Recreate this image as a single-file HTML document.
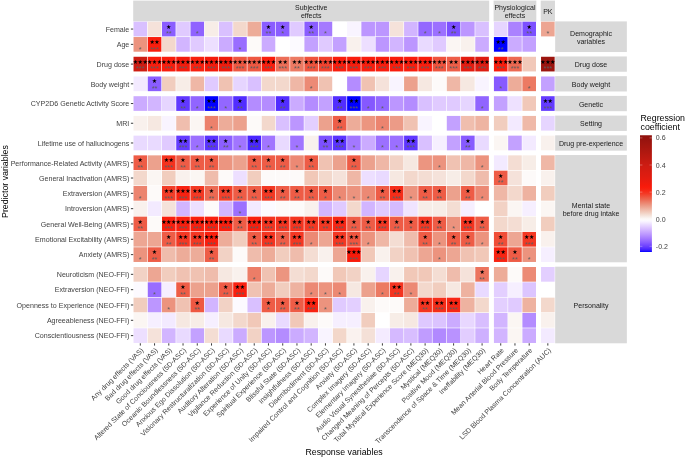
<!DOCTYPE html><html><head><meta charset="utf-8"><style>
html,body{margin:0;padding:0;background:#fff;}body{width:685px;height:457px;overflow:hidden;}svg{display:block;}text{font-family:"Liberation Sans",Arial,sans-serif;}
</style></head><body>
<svg width="685" height="457" viewBox="0 0 685 457">
<rect x="133.20" y="0.6" width="356.00" height="20.80" fill="#d9d9d9"/>
<text x="311.20" y="9.9" font-size="7.04" fill="#1a1a1a" text-anchor="middle">Subjective</text>
<text x="311.20" y="17.6" font-size="7.04" fill="#1a1a1a" text-anchor="middle">effects</text>
<rect x="493.60" y="0.6" width="42.72" height="20.80" fill="#d9d9d9"/>
<text x="514.96" y="9.9" font-size="7.04" fill="#1a1a1a" text-anchor="middle">Physiological</text>
<text x="514.96" y="17.6" font-size="7.04" fill="#1a1a1a" text-anchor="middle">effects</text>
<rect x="540.72" y="0.6" width="14.24" height="20.80" fill="#d9d9d9"/>
<text x="547.84" y="13.6" font-size="7.04" fill="#1a1a1a" text-anchor="middle">PK</text>
<rect x="555.16" y="21.40" width="71.70" height="30.64" fill="#d9d9d9"/>
<text x="591.01" y="35.92" font-size="7.04" fill="#1a1a1a" text-anchor="middle">Demographic</text>
<text x="591.01" y="43.62" font-size="7.04" fill="#1a1a1a" text-anchor="middle">variables</text>
<rect x="555.16" y="56.44" width="71.70" height="15.32" fill="#d9d9d9"/>
<text x="591.01" y="67.15" font-size="7.04" fill="#1a1a1a" text-anchor="middle">Drug dose</text>
<rect x="555.16" y="76.16" width="71.70" height="15.32" fill="#d9d9d9"/>
<text x="591.01" y="86.87" font-size="7.04" fill="#1a1a1a" text-anchor="middle">Body weight</text>
<rect x="555.16" y="95.88" width="71.70" height="15.32" fill="#d9d9d9"/>
<text x="591.01" y="106.59" font-size="7.04" fill="#1a1a1a" text-anchor="middle">Genetic</text>
<rect x="555.16" y="115.60" width="71.70" height="15.32" fill="#d9d9d9"/>
<text x="591.01" y="126.31" font-size="7.04" fill="#1a1a1a" text-anchor="middle">Setting</text>
<rect x="555.16" y="135.32" width="71.70" height="15.32" fill="#d9d9d9"/>
<text x="591.01" y="146.03" font-size="7.04" fill="#1a1a1a" text-anchor="middle">Drug pre-experience</text>
<rect x="555.16" y="155.04" width="71.70" height="107.24" fill="#d9d9d9"/>
<text x="591.01" y="207.86" font-size="7.04" fill="#1a1a1a" text-anchor="middle">Mental state</text>
<text x="591.01" y="215.56" font-size="7.04" fill="#1a1a1a" text-anchor="middle">before drug intake</text>
<rect x="555.16" y="266.68" width="71.70" height="76.60" fill="#d9d9d9"/>
<text x="591.01" y="308.03" font-size="7.04" fill="#1a1a1a" text-anchor="middle">Personality</text>
<rect x="133.52" y="21.72" width="13.60" height="14.68" fill="#d9c0ff"/>
<rect x="147.76" y="21.72" width="13.60" height="14.68" fill="#f5e2da"/>
<rect x="162.00" y="21.72" width="13.60" height="14.68" fill="#8a5dff"/>
<text x="168.80" y="27.70" font-size="4.9" letter-spacing="0.0" text-anchor="middle" style="font-family:'Liberation Sans','Noto Sans CJK JP',sans-serif">★</text>
<text x="168.80" y="36.30" font-size="7.4" fill="#5e5e5e" text-anchor="middle">**</text>
<rect x="176.24" y="21.72" width="13.60" height="14.68" fill="#e0caff"/>
<rect x="190.48" y="21.72" width="13.60" height="14.68" fill="#8f62ff"/>
<text x="197.28" y="36.30" font-size="7.4" fill="#5e5e5e" text-anchor="middle">*</text>
<rect x="204.72" y="21.72" width="13.60" height="14.68" fill="#f7ede7"/>
<rect x="218.96" y="21.72" width="13.60" height="14.68" fill="#d9c0ff"/>
<rect x="233.20" y="21.72" width="13.60" height="14.68" fill="#f3d8cc"/>
<rect x="247.44" y="21.72" width="13.60" height="14.68" fill="#edac99"/>
<rect x="261.68" y="21.72" width="13.60" height="14.68" fill="#8a5dff"/>
<text x="268.48" y="27.70" font-size="4.9" letter-spacing="0.0" text-anchor="middle" style="font-family:'Liberation Sans','Noto Sans CJK JP',sans-serif">★</text>
<text x="268.48" y="36.30" font-size="7.4" fill="#5e5e5e" text-anchor="middle">**</text>
<rect x="275.92" y="21.72" width="13.60" height="14.68" fill="#8a5dff"/>
<text x="282.72" y="27.70" font-size="4.9" letter-spacing="0.0" text-anchor="middle" style="font-family:'Liberation Sans','Noto Sans CJK JP',sans-serif">★</text>
<text x="282.72" y="36.30" font-size="7.4" fill="#5e5e5e" text-anchor="middle">*</text>
<rect x="290.16" y="21.72" width="13.60" height="14.68" fill="#e0caff"/>
<rect x="304.40" y="21.72" width="13.60" height="14.68" fill="#8a5dff"/>
<text x="311.20" y="27.70" font-size="4.9" letter-spacing="0.0" text-anchor="middle" style="font-family:'Liberation Sans','Noto Sans CJK JP',sans-serif">★</text>
<text x="311.20" y="36.30" font-size="7.4" fill="#5e5e5e" text-anchor="middle">**</text>
<rect x="318.64" y="21.72" width="13.60" height="14.68" fill="#a57aff"/>
<text x="325.44" y="36.30" font-size="7.4" fill="#5e5e5e" text-anchor="middle">*</text>
<rect x="332.88" y="21.72" width="13.60" height="14.68" fill="#ffffff"/>
<rect x="347.12" y="21.72" width="13.60" height="14.68" fill="#f9f4ff"/>
<rect x="361.36" y="21.72" width="13.60" height="14.68" fill="#bc96ff"/>
<rect x="375.60" y="21.72" width="13.60" height="14.68" fill="#bc96ff"/>
<rect x="389.84" y="21.72" width="13.60" height="14.68" fill="#f5e2da"/>
<rect x="404.08" y="21.72" width="13.60" height="14.68" fill="#d2b5ff"/>
<rect x="418.32" y="21.72" width="13.60" height="14.68" fill="#9367ff"/>
<text x="425.12" y="36.30" font-size="7.4" fill="#5e5e5e" text-anchor="middle">*</text>
<rect x="432.56" y="21.72" width="13.60" height="14.68" fill="#9c70ff"/>
<text x="439.36" y="36.30" font-size="7.4" fill="#5e5e5e" text-anchor="middle">*</text>
<rect x="446.80" y="21.72" width="13.60" height="14.68" fill="#7c50ff"/>
<text x="453.60" y="27.70" font-size="4.9" letter-spacing="0.0" text-anchor="middle" style="font-family:'Liberation Sans','Noto Sans CJK JP',sans-serif">★</text>
<text x="453.60" y="36.30" font-size="7.4" fill="#5e5e5e" text-anchor="middle">**</text>
<rect x="461.04" y="21.72" width="13.60" height="14.68" fill="#bc96ff"/>
<rect x="475.28" y="21.72" width="13.60" height="14.68" fill="#d9c0ff"/>
<rect x="493.92" y="21.72" width="13.60" height="14.68" fill="#e6d5ff"/>
<rect x="508.16" y="21.72" width="13.60" height="14.68" fill="#ab82ff"/>
<rect x="522.40" y="21.72" width="13.60" height="14.68" fill="#7c50ff"/>
<text x="529.20" y="27.70" font-size="4.9" letter-spacing="0.0" text-anchor="middle" style="font-family:'Liberation Sans','Noto Sans CJK JP',sans-serif">★</text>
<text x="529.20" y="36.30" font-size="7.4" fill="#5e5e5e" text-anchor="middle">**</text>
<rect x="541.04" y="21.72" width="13.60" height="14.68" fill="#eda592"/>
<text x="547.84" y="36.30" font-size="7.4" fill="#5e5e5e" text-anchor="middle">*</text>
<rect x="133.52" y="37.04" width="13.60" height="14.68" fill="#ec937e"/>
<text x="140.32" y="51.62" font-size="7.4" fill="#5e5e5e" text-anchor="middle">*</text>
<rect x="147.76" y="37.04" width="13.60" height="14.68" fill="#f91d0d"/>
<text x="154.56" y="43.02" font-size="4.9" letter-spacing="0.0" text-anchor="middle" style="font-family:'Liberation Sans','Noto Sans CJK JP',sans-serif">★★</text>
<text x="154.56" y="51.62" font-size="7.4" fill="#5e5e5e" text-anchor="middle">***</text>
<rect x="162.00" y="37.04" width="13.60" height="14.68" fill="#f3d8cc"/>
<rect x="176.24" y="37.04" width="13.60" height="14.68" fill="#d2b5ff"/>
<rect x="190.48" y="37.04" width="13.60" height="14.68" fill="#e0caff"/>
<rect x="204.72" y="37.04" width="13.60" height="14.68" fill="#eddfff"/>
<rect x="218.96" y="37.04" width="13.60" height="14.68" fill="#cbabff"/>
<rect x="233.20" y="37.04" width="13.60" height="14.68" fill="#996dff"/>
<text x="240.00" y="51.62" font-size="7.4" fill="#5e5e5e" text-anchor="middle">*</text>
<rect x="247.44" y="37.04" width="13.60" height="14.68" fill="#fdfaf9"/>
<rect x="261.68" y="37.04" width="13.60" height="14.68" fill="#cbabff"/>
<rect x="275.92" y="37.04" width="13.60" height="14.68" fill="#ffffff"/>
<rect x="290.16" y="37.04" width="13.60" height="14.68" fill="#fcfaff"/>
<rect x="304.40" y="37.04" width="13.60" height="14.68" fill="#c3a1ff"/>
<rect x="318.64" y="37.04" width="13.60" height="14.68" fill="#e0caff"/>
<rect x="332.88" y="37.04" width="13.60" height="14.68" fill="#c3a1ff"/>
<rect x="347.12" y="37.04" width="13.60" height="14.68" fill="#f9f1ed"/>
<rect x="361.36" y="37.04" width="13.60" height="14.68" fill="#eddfff"/>
<rect x="375.60" y="37.04" width="13.60" height="14.68" fill="#bc96ff"/>
<rect x="389.84" y="37.04" width="13.60" height="14.68" fill="#d2b5ff"/>
<rect x="404.08" y="37.04" width="13.60" height="14.68" fill="#bc96ff"/>
<rect x="418.32" y="37.04" width="13.60" height="14.68" fill="#e9daff"/>
<rect x="432.56" y="37.04" width="13.60" height="14.68" fill="#e0caff"/>
<rect x="446.80" y="37.04" width="13.60" height="14.68" fill="#fbf6f3"/>
<rect x="461.04" y="37.04" width="13.60" height="14.68" fill="#f9f1ed"/>
<rect x="475.28" y="37.04" width="13.60" height="14.68" fill="#cbabff"/>
<rect x="493.92" y="37.04" width="13.60" height="14.68" fill="#0000ff"/>
<text x="500.72" y="43.02" font-size="4.9" letter-spacing="0.0" text-anchor="middle" style="font-family:'Liberation Sans','Noto Sans CJK JP',sans-serif">★★</text>
<text x="500.72" y="51.62" font-size="7.4" fill="#5e5e5e" text-anchor="middle">**</text>
<rect x="508.16" y="37.04" width="13.60" height="14.68" fill="#cbabff"/>
<rect x="522.40" y="37.04" width="13.60" height="14.68" fill="#c3a1ff"/>
<rect x="541.04" y="37.04" width="13.60" height="14.68" fill="#ffffff"/>
<rect x="133.52" y="56.76" width="13.60" height="14.68" fill="#cd1c12"/>
<text x="140.32" y="62.74" font-size="4.9" letter-spacing="0.0" text-anchor="middle" style="font-family:'Liberation Sans','Noto Sans CJK JP',sans-serif">★★★</text>
<text x="140.32" y="71.34" font-size="7.4" fill="#5e5e5e" text-anchor="middle">***</text>
<rect x="147.76" y="56.76" width="13.60" height="14.68" fill="#f91d0d"/>
<text x="154.56" y="62.74" font-size="4.9" letter-spacing="0.0" text-anchor="middle" style="font-family:'Liberation Sans','Noto Sans CJK JP',sans-serif">★★★</text>
<text x="154.56" y="71.34" font-size="7.4" fill="#5e5e5e" text-anchor="middle">***</text>
<rect x="162.00" y="56.76" width="13.60" height="14.68" fill="#f91d0d"/>
<text x="168.80" y="62.74" font-size="4.9" letter-spacing="0.0" text-anchor="middle" style="font-family:'Liberation Sans','Noto Sans CJK JP',sans-serif">★★★</text>
<text x="168.80" y="71.34" font-size="7.4" fill="#5e5e5e" text-anchor="middle">***</text>
<rect x="176.24" y="56.76" width="13.60" height="14.68" fill="#f31b0c"/>
<text x="183.04" y="62.74" font-size="4.9" letter-spacing="0.0" text-anchor="middle" style="font-family:'Liberation Sans','Noto Sans CJK JP',sans-serif">★★★</text>
<text x="183.04" y="71.34" font-size="7.4" fill="#5e5e5e" text-anchor="middle">***</text>
<rect x="190.48" y="56.76" width="13.60" height="14.68" fill="#f8200f"/>
<text x="197.28" y="62.74" font-size="4.9" letter-spacing="0.0" text-anchor="middle" style="font-family:'Liberation Sans','Noto Sans CJK JP',sans-serif">★★★</text>
<text x="197.28" y="71.34" font-size="7.4" fill="#5e5e5e" text-anchor="middle">***</text>
<rect x="204.72" y="56.76" width="13.60" height="14.68" fill="#f41a0c"/>
<text x="211.52" y="62.74" font-size="4.9" letter-spacing="0.0" text-anchor="middle" style="font-family:'Liberation Sans','Noto Sans CJK JP',sans-serif">★★★</text>
<text x="211.52" y="71.34" font-size="7.4" fill="#5e5e5e" text-anchor="middle">***</text>
<rect x="218.96" y="56.76" width="13.60" height="14.68" fill="#ef1b0d"/>
<text x="225.76" y="62.74" font-size="4.9" letter-spacing="0.0" text-anchor="middle" style="font-family:'Liberation Sans','Noto Sans CJK JP',sans-serif">★★★</text>
<text x="225.76" y="71.34" font-size="7.4" fill="#5e5e5e" text-anchor="middle">***</text>
<rect x="233.20" y="56.76" width="13.60" height="14.68" fill="#ee5842"/>
<text x="240.00" y="62.74" font-size="4.9" letter-spacing="0.0" text-anchor="middle" style="font-family:'Liberation Sans','Noto Sans CJK JP',sans-serif">★★★</text>
<text x="240.00" y="71.34" font-size="7.4" fill="#5e5e5e" text-anchor="middle">***</text>
<rect x="247.44" y="56.76" width="13.60" height="14.68" fill="#ee5842"/>
<text x="254.24" y="62.74" font-size="4.9" letter-spacing="0.0" text-anchor="middle" style="font-family:'Liberation Sans','Noto Sans CJK JP',sans-serif">★★★</text>
<text x="254.24" y="71.34" font-size="7.4" fill="#5e5e5e" text-anchor="middle">***</text>
<rect x="261.68" y="56.76" width="13.60" height="14.68" fill="#f91d0d"/>
<text x="268.48" y="62.74" font-size="4.9" letter-spacing="0.0" text-anchor="middle" style="font-family:'Liberation Sans','Noto Sans CJK JP',sans-serif">★★★</text>
<text x="268.48" y="71.34" font-size="7.4" fill="#5e5e5e" text-anchor="middle">***</text>
<rect x="275.92" y="56.76" width="13.60" height="14.68" fill="#ec6e58"/>
<text x="282.72" y="62.74" font-size="4.9" letter-spacing="0.0" text-anchor="middle" style="font-family:'Liberation Sans','Noto Sans CJK JP',sans-serif">★★</text>
<text x="282.72" y="71.34" font-size="7.4" fill="#5e5e5e" text-anchor="middle">***</text>
<rect x="290.16" y="56.76" width="13.60" height="14.68" fill="#ec7a63"/>
<text x="296.96" y="62.74" font-size="4.9" letter-spacing="0.0" text-anchor="middle" style="font-family:'Liberation Sans','Noto Sans CJK JP',sans-serif">★★</text>
<text x="296.96" y="71.34" font-size="7.4" fill="#5e5e5e" text-anchor="middle">**</text>
<rect x="304.40" y="56.76" width="13.60" height="14.68" fill="#ef533d"/>
<text x="311.20" y="62.74" font-size="4.9" letter-spacing="0.0" text-anchor="middle" style="font-family:'Liberation Sans','Noto Sans CJK JP',sans-serif">★★★</text>
<text x="311.20" y="71.34" font-size="7.4" fill="#5e5e5e" text-anchor="middle">***</text>
<rect x="318.64" y="56.76" width="13.60" height="14.68" fill="#f2422e"/>
<text x="325.44" y="62.74" font-size="4.9" letter-spacing="0.0" text-anchor="middle" style="font-family:'Liberation Sans','Noto Sans CJK JP',sans-serif">★★★</text>
<text x="325.44" y="71.34" font-size="7.4" fill="#5e5e5e" text-anchor="middle">***</text>
<rect x="332.88" y="56.76" width="13.60" height="14.68" fill="#f91d0d"/>
<text x="339.68" y="62.74" font-size="4.9" letter-spacing="0.0" text-anchor="middle" style="font-family:'Liberation Sans','Noto Sans CJK JP',sans-serif">★★★</text>
<text x="339.68" y="71.34" font-size="7.4" fill="#5e5e5e" text-anchor="middle">***</text>
<rect x="347.12" y="56.76" width="13.60" height="14.68" fill="#f91d0d"/>
<text x="353.92" y="62.74" font-size="4.9" letter-spacing="0.0" text-anchor="middle" style="font-family:'Liberation Sans','Noto Sans CJK JP',sans-serif">★★★</text>
<text x="353.92" y="71.34" font-size="7.4" fill="#5e5e5e" text-anchor="middle">***</text>
<rect x="361.36" y="56.76" width="13.60" height="14.68" fill="#f91d0d"/>
<text x="368.16" y="62.74" font-size="4.9" letter-spacing="0.0" text-anchor="middle" style="font-family:'Liberation Sans','Noto Sans CJK JP',sans-serif">★★★</text>
<text x="368.16" y="71.34" font-size="7.4" fill="#5e5e5e" text-anchor="middle">***</text>
<rect x="375.60" y="56.76" width="13.60" height="14.68" fill="#f91d0d"/>
<text x="382.40" y="62.74" font-size="4.9" letter-spacing="0.0" text-anchor="middle" style="font-family:'Liberation Sans','Noto Sans CJK JP',sans-serif">★★★</text>
<text x="382.40" y="71.34" font-size="7.4" fill="#5e5e5e" text-anchor="middle">***</text>
<rect x="389.84" y="56.76" width="13.60" height="14.68" fill="#f91d0d"/>
<text x="396.64" y="62.74" font-size="4.9" letter-spacing="0.0" text-anchor="middle" style="font-family:'Liberation Sans','Noto Sans CJK JP',sans-serif">★★★</text>
<text x="396.64" y="71.34" font-size="7.4" fill="#5e5e5e" text-anchor="middle">***</text>
<rect x="404.08" y="56.76" width="13.60" height="14.68" fill="#f91d0d"/>
<text x="410.88" y="62.74" font-size="4.9" letter-spacing="0.0" text-anchor="middle" style="font-family:'Liberation Sans','Noto Sans CJK JP',sans-serif">★★★</text>
<text x="410.88" y="71.34" font-size="7.4" fill="#5e5e5e" text-anchor="middle">***</text>
<rect x="418.32" y="56.76" width="13.60" height="14.68" fill="#f91d0d"/>
<text x="425.12" y="62.74" font-size="4.9" letter-spacing="0.0" text-anchor="middle" style="font-family:'Liberation Sans','Noto Sans CJK JP',sans-serif">★★★</text>
<text x="425.12" y="71.34" font-size="7.4" fill="#5e5e5e" text-anchor="middle">***</text>
<rect x="432.56" y="56.76" width="13.60" height="14.68" fill="#ef533d"/>
<text x="439.36" y="62.74" font-size="4.9" letter-spacing="0.0" text-anchor="middle" style="font-family:'Liberation Sans','Noto Sans CJK JP',sans-serif">★★★</text>
<text x="439.36" y="71.34" font-size="7.4" fill="#5e5e5e" text-anchor="middle">***</text>
<rect x="446.80" y="56.76" width="13.60" height="14.68" fill="#ee5e48"/>
<text x="453.60" y="62.74" font-size="4.9" letter-spacing="0.0" text-anchor="middle" style="font-family:'Liberation Sans','Noto Sans CJK JP',sans-serif">★★</text>
<text x="453.60" y="71.34" font-size="7.4" fill="#5e5e5e" text-anchor="middle">***</text>
<rect x="461.04" y="56.76" width="13.60" height="14.68" fill="#e41c10"/>
<text x="467.84" y="62.74" font-size="4.9" letter-spacing="0.0" text-anchor="middle" style="font-family:'Liberation Sans','Noto Sans CJK JP',sans-serif">★★★</text>
<text x="467.84" y="71.34" font-size="7.4" fill="#5e5e5e" text-anchor="middle">***</text>
<rect x="475.28" y="56.76" width="13.60" height="14.68" fill="#dd1c11"/>
<text x="482.08" y="62.74" font-size="4.9" letter-spacing="0.0" text-anchor="middle" style="font-family:'Liberation Sans','Noto Sans CJK JP',sans-serif">★★★</text>
<text x="482.08" y="71.34" font-size="7.4" fill="#5e5e5e" text-anchor="middle">***</text>
<rect x="493.92" y="56.76" width="13.60" height="14.68" fill="#f91d0d"/>
<text x="500.72" y="62.74" font-size="4.9" letter-spacing="0.0" text-anchor="middle" style="font-family:'Liberation Sans','Noto Sans CJK JP',sans-serif">★★★</text>
<text x="500.72" y="71.34" font-size="7.4" fill="#5e5e5e" text-anchor="middle">***</text>
<rect x="508.16" y="56.76" width="13.60" height="14.68" fill="#ec6952"/>
<text x="514.96" y="62.74" font-size="4.9" letter-spacing="0.0" text-anchor="middle" style="font-family:'Liberation Sans','Noto Sans CJK JP',sans-serif">★★★</text>
<text x="514.96" y="71.34" font-size="7.4" fill="#5e5e5e" text-anchor="middle">***</text>
<rect x="522.40" y="56.76" width="13.60" height="14.68" fill="#f1c8b9"/>
<rect x="541.04" y="56.76" width="13.60" height="14.68" fill="#9c150f"/>
<text x="547.84" y="62.74" font-size="4.9" letter-spacing="0.0" text-anchor="middle" style="font-family:'Liberation Sans','Noto Sans CJK JP',sans-serif">★★★</text>
<text x="547.84" y="71.34" font-size="7.4" fill="#5e5e5e" text-anchor="middle">***</text>
<rect x="133.52" y="76.48" width="13.60" height="14.68" fill="#f3eaff"/>
<rect x="147.76" y="76.48" width="13.60" height="14.68" fill="#8a5dff"/>
<text x="154.56" y="82.46" font-size="4.9" letter-spacing="0.0" text-anchor="middle" style="font-family:'Liberation Sans','Noto Sans CJK JP',sans-serif">★</text>
<text x="154.56" y="91.06" font-size="7.4" fill="#5e5e5e" text-anchor="middle">**</text>
<rect x="162.00" y="76.48" width="13.60" height="14.68" fill="#f1cdbe"/>
<rect x="176.24" y="76.48" width="13.60" height="14.68" fill="#f7ede7"/>
<rect x="190.48" y="76.48" width="13.60" height="14.68" fill="#efb7a6"/>
<rect x="204.72" y="76.48" width="13.60" height="14.68" fill="#e0caff"/>
<rect x="218.96" y="76.48" width="13.60" height="14.68" fill="#f0c2b2"/>
<rect x="233.20" y="76.48" width="13.60" height="14.68" fill="#e6d5ff"/>
<rect x="247.44" y="76.48" width="13.60" height="14.68" fill="#d9c0ff"/>
<rect x="261.68" y="76.48" width="13.60" height="14.68" fill="#f3d8cc"/>
<rect x="275.92" y="76.48" width="13.60" height="14.68" fill="#f3d8cc"/>
<rect x="290.16" y="76.48" width="13.60" height="14.68" fill="#efb7a6"/>
<rect x="304.40" y="76.48" width="13.60" height="14.68" fill="#ec8a75"/>
<text x="311.20" y="91.06" font-size="7.4" fill="#5e5e5e" text-anchor="middle">*</text>
<rect x="318.64" y="76.48" width="13.60" height="14.68" fill="#f0c2b2"/>
<rect x="332.88" y="76.48" width="13.60" height="14.68" fill="#ffffff"/>
<rect x="347.12" y="76.48" width="13.60" height="14.68" fill="#b48cff"/>
<rect x="361.36" y="76.48" width="13.60" height="14.68" fill="#f0c2b2"/>
<rect x="375.60" y="76.48" width="13.60" height="14.68" fill="#f5e2da"/>
<rect x="389.84" y="76.48" width="13.60" height="14.68" fill="#f9f4ff"/>
<rect x="404.08" y="76.48" width="13.60" height="14.68" fill="#eca18d"/>
<rect x="418.32" y="76.48" width="13.60" height="14.68" fill="#f6e8e1"/>
<rect x="432.56" y="76.48" width="13.60" height="14.68" fill="#fdfaf9"/>
<rect x="446.80" y="76.48" width="13.60" height="14.68" fill="#efb7a6"/>
<rect x="461.04" y="76.48" width="13.60" height="14.68" fill="#f6e8e1"/>
<rect x="475.28" y="76.48" width="13.60" height="14.68" fill="#f9f4ff"/>
<rect x="493.92" y="76.48" width="13.60" height="14.68" fill="#875aff"/>
<text x="500.72" y="91.06" font-size="7.4" fill="#5e5e5e" text-anchor="middle">*</text>
<rect x="508.16" y="76.48" width="13.60" height="14.68" fill="#edac99"/>
<rect x="522.40" y="76.48" width="13.60" height="14.68" fill="#ec7a63"/>
<text x="529.20" y="91.06" font-size="7.4" fill="#5e5e5e" text-anchor="middle">*</text>
<rect x="541.04" y="76.48" width="13.60" height="14.68" fill="#c3a1ff"/>
<rect x="133.52" y="96.20" width="13.60" height="14.68" fill="#cbabff"/>
<rect x="147.76" y="96.20" width="13.60" height="14.68" fill="#d2b5ff"/>
<rect x="162.00" y="96.20" width="13.60" height="14.68" fill="#e6d5ff"/>
<rect x="176.24" y="96.20" width="13.60" height="14.68" fill="#6138ff"/>
<text x="183.04" y="102.18" font-size="4.9" letter-spacing="0.0" text-anchor="middle" style="font-family:'Liberation Sans','Noto Sans CJK JP',sans-serif">★</text>
<text x="183.04" y="110.78" font-size="7.4" fill="#5e5e5e" text-anchor="middle">**</text>
<rect x="190.48" y="96.20" width="13.60" height="14.68" fill="#9165ff"/>
<text x="197.28" y="110.78" font-size="7.4" fill="#5e5e5e" text-anchor="middle">*</text>
<rect x="204.72" y="96.20" width="13.60" height="14.68" fill="#0000ff"/>
<text x="211.52" y="102.18" font-size="4.9" letter-spacing="0.0" text-anchor="middle" style="font-family:'Liberation Sans','Noto Sans CJK JP',sans-serif">★★</text>
<text x="211.52" y="110.78" font-size="7.4" fill="#5e5e5e" text-anchor="middle">***</text>
<rect x="218.96" y="96.20" width="13.60" height="14.68" fill="#9367ff"/>
<text x="225.76" y="110.78" font-size="7.4" fill="#5e5e5e" text-anchor="middle">*</text>
<rect x="233.20" y="96.20" width="13.60" height="14.68" fill="#522dff"/>
<text x="240.00" y="102.18" font-size="4.9" letter-spacing="0.0" text-anchor="middle" style="font-family:'Liberation Sans','Noto Sans CJK JP',sans-serif">★</text>
<text x="240.00" y="110.78" font-size="7.4" fill="#5e5e5e" text-anchor="middle">**</text>
<rect x="247.44" y="96.20" width="13.60" height="14.68" fill="#b48cff"/>
<rect x="261.68" y="96.20" width="13.60" height="14.68" fill="#b48cff"/>
<rect x="275.92" y="96.20" width="13.60" height="14.68" fill="#522dff"/>
<text x="282.72" y="102.18" font-size="4.9" letter-spacing="0.0" text-anchor="middle" style="font-family:'Liberation Sans','Noto Sans CJK JP',sans-serif">★</text>
<text x="282.72" y="110.78" font-size="7.4" fill="#5e5e5e" text-anchor="middle">**</text>
<rect x="290.16" y="96.20" width="13.60" height="14.68" fill="#cbabff"/>
<rect x="304.40" y="96.20" width="13.60" height="14.68" fill="#b48cff"/>
<rect x="318.64" y="96.20" width="13.60" height="14.68" fill="#c3a1ff"/>
<rect x="332.88" y="96.20" width="13.60" height="14.68" fill="#522dff"/>
<text x="339.68" y="102.18" font-size="4.9" letter-spacing="0.0" text-anchor="middle" style="font-family:'Liberation Sans','Noto Sans CJK JP',sans-serif">★</text>
<text x="339.68" y="110.78" font-size="7.4" fill="#5e5e5e" text-anchor="middle">**</text>
<rect x="347.12" y="96.20" width="13.60" height="14.68" fill="#0000ff"/>
<text x="353.92" y="102.18" font-size="4.9" letter-spacing="0.0" text-anchor="middle" style="font-family:'Liberation Sans','Noto Sans CJK JP',sans-serif">★★</text>
<text x="353.92" y="110.78" font-size="7.4" fill="#5e5e5e" text-anchor="middle">***</text>
<rect x="361.36" y="96.20" width="13.60" height="14.68" fill="#8558ff"/>
<text x="368.16" y="110.78" font-size="7.4" fill="#5e5e5e" text-anchor="middle">*</text>
<rect x="375.60" y="96.20" width="13.60" height="14.68" fill="#9367ff"/>
<text x="382.40" y="110.78" font-size="7.4" fill="#5e5e5e" text-anchor="middle">*</text>
<rect x="389.84" y="96.20" width="13.60" height="14.68" fill="#bc96ff"/>
<rect x="404.08" y="96.20" width="13.60" height="14.68" fill="#b48cff"/>
<rect x="418.32" y="96.20" width="13.60" height="14.68" fill="#d9c0ff"/>
<rect x="432.56" y="96.20" width="13.60" height="14.68" fill="#e0caff"/>
<rect x="446.80" y="96.20" width="13.60" height="14.68" fill="#e0caff"/>
<rect x="461.04" y="96.20" width="13.60" height="14.68" fill="#e6d5ff"/>
<rect x="475.28" y="96.20" width="13.60" height="14.68" fill="#9165ff"/>
<text x="482.08" y="110.78" font-size="7.4" fill="#5e5e5e" text-anchor="middle">*</text>
<rect x="493.92" y="96.20" width="13.60" height="14.68" fill="#c3a1ff"/>
<rect x="508.16" y="96.20" width="13.60" height="14.68" fill="#eee1ff"/>
<rect x="522.40" y="96.20" width="13.60" height="14.68" fill="#f1c8b9"/>
<rect x="541.04" y="96.20" width="13.60" height="14.68" fill="#643bff"/>
<text x="547.84" y="102.18" font-size="4.9" letter-spacing="0.0" text-anchor="middle" style="font-family:'Liberation Sans','Noto Sans CJK JP',sans-serif">★★</text>
<text x="547.84" y="110.78" font-size="7.4" fill="#5e5e5e" text-anchor="middle">***</text>
<rect x="133.52" y="115.92" width="13.60" height="14.68" fill="#f9f1ed"/>
<rect x="147.76" y="115.92" width="13.60" height="14.68" fill="#f6e8e1"/>
<rect x="162.00" y="115.92" width="13.60" height="14.68" fill="#f9f4ff"/>
<rect x="176.24" y="115.92" width="13.60" height="14.68" fill="#f0beae"/>
<rect x="190.48" y="115.92" width="13.60" height="14.68" fill="#fbf6f3"/>
<rect x="204.72" y="115.92" width="13.60" height="14.68" fill="#ec816c"/>
<text x="211.52" y="130.50" font-size="7.4" fill="#5e5e5e" text-anchor="middle">*</text>
<rect x="218.96" y="115.92" width="13.60" height="14.68" fill="#edac99"/>
<rect x="233.20" y="115.92" width="13.60" height="14.68" fill="#eca18d"/>
<rect x="247.44" y="115.92" width="13.60" height="14.68" fill="#fdfaf9"/>
<rect x="261.68" y="115.92" width="13.60" height="14.68" fill="#f3d8cc"/>
<rect x="275.92" y="115.92" width="13.60" height="14.68" fill="#d9c0ff"/>
<rect x="290.16" y="115.92" width="13.60" height="14.68" fill="#bc96ff"/>
<rect x="304.40" y="115.92" width="13.60" height="14.68" fill="#e3cfff"/>
<rect x="318.64" y="115.92" width="13.60" height="14.68" fill="#eca18d"/>
<rect x="332.88" y="115.92" width="13.60" height="14.68" fill="#ee5e48"/>
<text x="339.68" y="121.90" font-size="4.9" letter-spacing="0.0" text-anchor="middle" style="font-family:'Liberation Sans','Noto Sans CJK JP',sans-serif">★</text>
<text x="339.68" y="130.50" font-size="7.4" fill="#5e5e5e" text-anchor="middle">**</text>
<rect x="347.12" y="115.92" width="13.60" height="14.68" fill="#edac99"/>
<rect x="361.36" y="115.92" width="13.60" height="14.68" fill="#ec9580"/>
<rect x="375.60" y="115.92" width="13.60" height="14.68" fill="#ec846f"/>
<text x="382.40" y="130.50" font-size="7.4" fill="#5e5e5e" text-anchor="middle">*</text>
<rect x="389.84" y="115.92" width="13.60" height="14.68" fill="#ec9b87"/>
<rect x="404.08" y="115.92" width="13.60" height="14.68" fill="#f0c2b2"/>
<rect x="418.32" y="115.92" width="13.60" height="14.68" fill="#f9f4ff"/>
<rect x="432.56" y="115.92" width="13.60" height="14.68" fill="#ffffff"/>
<rect x="446.80" y="115.92" width="13.60" height="14.68" fill="#c3a1ff"/>
<rect x="461.04" y="115.92" width="13.60" height="14.68" fill="#f0beae"/>
<rect x="475.28" y="115.92" width="13.60" height="14.68" fill="#eeb4a2"/>
<rect x="493.92" y="115.92" width="13.60" height="14.68" fill="#f1cdbe"/>
<rect x="508.16" y="115.92" width="13.60" height="14.68" fill="#f3eaff"/>
<rect x="522.40" y="115.92" width="13.60" height="14.68" fill="#efb9a8"/>
<rect x="541.04" y="115.92" width="13.60" height="14.68" fill="#e6d5ff"/>
<rect x="133.52" y="135.64" width="13.60" height="14.68" fill="#e9daff"/>
<rect x="147.76" y="135.64" width="13.60" height="14.68" fill="#e9daff"/>
<rect x="162.00" y="135.64" width="13.60" height="14.68" fill="#e0caff"/>
<rect x="176.24" y="135.64" width="13.60" height="14.68" fill="#643bff"/>
<text x="183.04" y="141.62" font-size="4.9" letter-spacing="0.0" text-anchor="middle" style="font-family:'Liberation Sans','Noto Sans CJK JP',sans-serif">★★</text>
<text x="183.04" y="150.22" font-size="7.4" fill="#5e5e5e" text-anchor="middle">***</text>
<rect x="190.48" y="135.64" width="13.60" height="14.68" fill="#9c70ff"/>
<text x="197.28" y="150.22" font-size="7.4" fill="#5e5e5e" text-anchor="middle">*</text>
<rect x="204.72" y="135.64" width="13.60" height="14.68" fill="#5a33ff"/>
<text x="211.52" y="141.62" font-size="4.9" letter-spacing="0.0" text-anchor="middle" style="font-family:'Liberation Sans','Noto Sans CJK JP',sans-serif">★★</text>
<text x="211.52" y="150.22" font-size="7.4" fill="#5e5e5e" text-anchor="middle">***</text>
<rect x="218.96" y="135.64" width="13.60" height="14.68" fill="#8c5fff"/>
<text x="225.76" y="141.62" font-size="4.9" letter-spacing="0.0" text-anchor="middle" style="font-family:'Liberation Sans','Noto Sans CJK JP',sans-serif">★</text>
<text x="225.76" y="150.22" font-size="7.4" fill="#5e5e5e" text-anchor="middle">**</text>
<rect x="233.20" y="135.64" width="13.60" height="14.68" fill="#a175ff"/>
<text x="240.00" y="150.22" font-size="7.4" fill="#5e5e5e" text-anchor="middle">*</text>
<rect x="247.44" y="135.64" width="13.60" height="14.68" fill="#4926ff"/>
<text x="254.24" y="141.62" font-size="4.9" letter-spacing="0.0" text-anchor="middle" style="font-family:'Liberation Sans','Noto Sans CJK JP',sans-serif">★★</text>
<text x="254.24" y="150.22" font-size="7.4" fill="#5e5e5e" text-anchor="middle">***</text>
<rect x="261.68" y="135.64" width="13.60" height="14.68" fill="#a175ff"/>
<text x="268.48" y="150.22" font-size="7.4" fill="#5e5e5e" text-anchor="middle">*</text>
<rect x="275.92" y="135.64" width="13.60" height="14.68" fill="#e9daff"/>
<rect x="290.16" y="135.64" width="13.60" height="14.68" fill="#a175ff"/>
<text x="296.96" y="150.22" font-size="7.4" fill="#5e5e5e" text-anchor="middle">*</text>
<rect x="304.40" y="135.64" width="13.60" height="14.68" fill="#f9f1ed"/>
<rect x="318.64" y="135.64" width="13.60" height="14.68" fill="#7c50ff"/>
<text x="325.44" y="141.62" font-size="4.9" letter-spacing="0.0" text-anchor="middle" style="font-family:'Liberation Sans','Noto Sans CJK JP',sans-serif">★</text>
<text x="325.44" y="150.22" font-size="7.4" fill="#5e5e5e" text-anchor="middle">**</text>
<rect x="332.88" y="135.64" width="13.60" height="14.68" fill="#5a33ff"/>
<text x="339.68" y="141.62" font-size="4.9" letter-spacing="0.0" text-anchor="middle" style="font-family:'Liberation Sans','Noto Sans CJK JP',sans-serif">★★</text>
<text x="339.68" y="150.22" font-size="7.4" fill="#5e5e5e" text-anchor="middle">***</text>
<rect x="347.12" y="135.64" width="13.60" height="14.68" fill="#a378ff"/>
<text x="353.92" y="150.22" font-size="7.4" fill="#5e5e5e" text-anchor="middle">*</text>
<rect x="361.36" y="135.64" width="13.60" height="14.68" fill="#cbabff"/>
<rect x="375.60" y="135.64" width="13.60" height="14.68" fill="#9c70ff"/>
<text x="382.40" y="150.22" font-size="7.4" fill="#5e5e5e" text-anchor="middle">*</text>
<rect x="389.84" y="135.64" width="13.60" height="14.68" fill="#9b6fff"/>
<text x="396.64" y="150.22" font-size="7.4" fill="#5e5e5e" text-anchor="middle">*</text>
<rect x="404.08" y="135.64" width="13.60" height="14.68" fill="#5f36ff"/>
<text x="410.88" y="141.62" font-size="4.9" letter-spacing="0.0" text-anchor="middle" style="font-family:'Liberation Sans','Noto Sans CJK JP',sans-serif">★★</text>
<text x="410.88" y="150.22" font-size="7.4" fill="#5e5e5e" text-anchor="middle">***</text>
<rect x="418.32" y="135.64" width="13.60" height="14.68" fill="#d9c0ff"/>
<rect x="432.56" y="135.64" width="13.60" height="14.68" fill="#f6efff"/>
<rect x="446.80" y="135.64" width="13.60" height="14.68" fill="#c3a1ff"/>
<rect x="461.04" y="135.64" width="13.60" height="14.68" fill="#875aff"/>
<text x="467.84" y="141.62" font-size="4.9" letter-spacing="0.0" text-anchor="middle" style="font-family:'Liberation Sans','Noto Sans CJK JP',sans-serif">★</text>
<text x="467.84" y="150.22" font-size="7.4" fill="#5e5e5e" text-anchor="middle">**</text>
<rect x="475.28" y="135.64" width="13.60" height="14.68" fill="#e9daff"/>
<rect x="493.92" y="135.64" width="13.60" height="14.68" fill="#fbf6f3"/>
<rect x="508.16" y="135.64" width="13.60" height="14.68" fill="#c3a1ff"/>
<rect x="522.40" y="135.64" width="13.60" height="14.68" fill="#f3eaff"/>
<rect x="541.04" y="135.64" width="13.60" height="14.68" fill="#f9f1ed"/>
<rect x="133.52" y="155.36" width="13.60" height="14.68" fill="#ee5c46"/>
<text x="140.32" y="161.34" font-size="4.9" letter-spacing="0.0" text-anchor="middle" style="font-family:'Liberation Sans','Noto Sans CJK JP',sans-serif">★</text>
<text x="140.32" y="169.94" font-size="7.4" fill="#5e5e5e" text-anchor="middle">**</text>
<rect x="147.76" y="155.36" width="13.60" height="14.68" fill="#eca18d"/>
<rect x="162.00" y="155.36" width="13.60" height="14.68" fill="#f4321e"/>
<text x="168.80" y="161.34" font-size="4.9" letter-spacing="0.0" text-anchor="middle" style="font-family:'Liberation Sans','Noto Sans CJK JP',sans-serif">★★</text>
<text x="168.80" y="169.94" font-size="7.4" fill="#5e5e5e" text-anchor="middle">***</text>
<rect x="176.24" y="155.36" width="13.60" height="14.68" fill="#ee5c46"/>
<text x="183.04" y="161.34" font-size="4.9" letter-spacing="0.0" text-anchor="middle" style="font-family:'Liberation Sans','Noto Sans CJK JP',sans-serif">★</text>
<text x="183.04" y="169.94" font-size="7.4" fill="#5e5e5e" text-anchor="middle">**</text>
<rect x="190.48" y="155.36" width="13.60" height="14.68" fill="#ee5c46"/>
<text x="197.28" y="161.34" font-size="4.9" letter-spacing="0.0" text-anchor="middle" style="font-family:'Liberation Sans','Noto Sans CJK JP',sans-serif">★</text>
<text x="197.28" y="169.94" font-size="7.4" fill="#5e5e5e" text-anchor="middle">**</text>
<rect x="204.72" y="155.36" width="13.60" height="14.68" fill="#ee5c46"/>
<text x="211.52" y="161.34" font-size="4.9" letter-spacing="0.0" text-anchor="middle" style="font-family:'Liberation Sans','Noto Sans CJK JP',sans-serif">★</text>
<text x="211.52" y="169.94" font-size="7.4" fill="#5e5e5e" text-anchor="middle">**</text>
<rect x="218.96" y="155.36" width="13.60" height="14.68" fill="#ec9580"/>
<rect x="233.20" y="155.36" width="13.60" height="14.68" fill="#eca18d"/>
<rect x="247.44" y="155.36" width="13.60" height="14.68" fill="#ee5c46"/>
<text x="254.24" y="161.34" font-size="4.9" letter-spacing="0.0" text-anchor="middle" style="font-family:'Liberation Sans','Noto Sans CJK JP',sans-serif">★</text>
<text x="254.24" y="169.94" font-size="7.4" fill="#5e5e5e" text-anchor="middle">**</text>
<rect x="261.68" y="155.36" width="13.60" height="14.68" fill="#ee5c46"/>
<text x="268.48" y="161.34" font-size="4.9" letter-spacing="0.0" text-anchor="middle" style="font-family:'Liberation Sans','Noto Sans CJK JP',sans-serif">★</text>
<text x="268.48" y="169.94" font-size="7.4" fill="#5e5e5e" text-anchor="middle">**</text>
<rect x="275.92" y="155.36" width="13.60" height="14.68" fill="#ee5c46"/>
<text x="282.72" y="161.34" font-size="4.9" letter-spacing="0.0" text-anchor="middle" style="font-family:'Liberation Sans','Noto Sans CJK JP',sans-serif">★</text>
<text x="282.72" y="169.94" font-size="7.4" fill="#5e5e5e" text-anchor="middle">**</text>
<rect x="290.16" y="155.36" width="13.60" height="14.68" fill="#ec8974"/>
<text x="296.96" y="169.94" font-size="7.4" fill="#5e5e5e" text-anchor="middle">*</text>
<rect x="304.40" y="155.36" width="13.60" height="14.68" fill="#ee5c46"/>
<text x="311.20" y="161.34" font-size="4.9" letter-spacing="0.0" text-anchor="middle" style="font-family:'Liberation Sans','Noto Sans CJK JP',sans-serif">★</text>
<text x="311.20" y="169.94" font-size="7.4" fill="#5e5e5e" text-anchor="middle">**</text>
<rect x="318.64" y="155.36" width="13.60" height="14.68" fill="#f0c2b2"/>
<rect x="332.88" y="155.36" width="13.60" height="14.68" fill="#eca18d"/>
<rect x="347.12" y="155.36" width="13.60" height="14.68" fill="#ee5c46"/>
<text x="353.92" y="161.34" font-size="4.9" letter-spacing="0.0" text-anchor="middle" style="font-family:'Liberation Sans','Noto Sans CJK JP',sans-serif">★</text>
<text x="353.92" y="169.94" font-size="7.4" fill="#5e5e5e" text-anchor="middle">**</text>
<rect x="361.36" y="155.36" width="13.60" height="14.68" fill="#eca18d"/>
<rect x="375.60" y="155.36" width="13.60" height="14.68" fill="#efb7a6"/>
<rect x="389.84" y="155.36" width="13.60" height="14.68" fill="#f2d2c5"/>
<rect x="404.08" y="155.36" width="13.60" height="14.68" fill="#f6e8e1"/>
<rect x="418.32" y="155.36" width="13.60" height="14.68" fill="#ec9580"/>
<rect x="432.56" y="155.36" width="13.60" height="14.68" fill="#ec937e"/>
<text x="439.36" y="169.94" font-size="7.4" fill="#5e5e5e" text-anchor="middle">*</text>
<rect x="446.80" y="155.36" width="13.60" height="14.68" fill="#f0c2b2"/>
<rect x="461.04" y="155.36" width="13.60" height="14.68" fill="#efb7a6"/>
<rect x="475.28" y="155.36" width="13.60" height="14.68" fill="#ec937e"/>
<text x="482.08" y="169.94" font-size="7.4" fill="#5e5e5e" text-anchor="middle">*</text>
<rect x="493.92" y="155.36" width="13.60" height="14.68" fill="#f3eaff"/>
<rect x="508.16" y="155.36" width="13.60" height="14.68" fill="#f4ddd3"/>
<rect x="522.40" y="155.36" width="13.60" height="14.68" fill="#f7ede7"/>
<rect x="541.04" y="155.36" width="13.60" height="14.68" fill="#efb7a6"/>
<rect x="133.52" y="170.68" width="13.60" height="14.68" fill="#f3d8cc"/>
<rect x="147.76" y="170.68" width="13.60" height="14.68" fill="#fbf6f3"/>
<rect x="162.00" y="170.68" width="13.60" height="14.68" fill="#f1cdbe"/>
<rect x="176.24" y="170.68" width="13.60" height="14.68" fill="#f9f1ed"/>
<rect x="190.48" y="170.68" width="13.60" height="14.68" fill="#fbf6f3"/>
<rect x="204.72" y="170.68" width="13.60" height="14.68" fill="#efbcac"/>
<rect x="218.96" y="170.68" width="13.60" height="14.68" fill="#fdfaf9"/>
<rect x="233.20" y="170.68" width="13.60" height="14.68" fill="#eddfff"/>
<rect x="247.44" y="170.68" width="13.60" height="14.68" fill="#f1cdbe"/>
<rect x="261.68" y="170.68" width="13.60" height="14.68" fill="#fdfaf9"/>
<rect x="275.92" y="170.68" width="13.60" height="14.68" fill="#fdfaf9"/>
<rect x="290.16" y="170.68" width="13.60" height="14.68" fill="#fdfaf9"/>
<rect x="304.40" y="170.68" width="13.60" height="14.68" fill="#f1c8b8"/>
<rect x="318.64" y="170.68" width="13.60" height="14.68" fill="#f3d8cc"/>
<rect x="332.88" y="170.68" width="13.60" height="14.68" fill="#f5e2da"/>
<rect x="347.12" y="170.68" width="13.60" height="14.68" fill="#efb7a6"/>
<rect x="361.36" y="170.68" width="13.60" height="14.68" fill="#eddfff"/>
<rect x="375.60" y="170.68" width="13.60" height="14.68" fill="#e9daff"/>
<rect x="389.84" y="170.68" width="13.60" height="14.68" fill="#f6e8e1"/>
<rect x="404.08" y="170.68" width="13.60" height="14.68" fill="#f3d8cc"/>
<rect x="418.32" y="170.68" width="13.60" height="14.68" fill="#f4ddd3"/>
<rect x="432.56" y="170.68" width="13.60" height="14.68" fill="#f5e2da"/>
<rect x="446.80" y="170.68" width="13.60" height="14.68" fill="#f7ede7"/>
<rect x="461.04" y="170.68" width="13.60" height="14.68" fill="#f3d8cc"/>
<rect x="475.28" y="170.68" width="13.60" height="14.68" fill="#efbcac"/>
<rect x="493.92" y="170.68" width="13.60" height="14.68" fill="#ee5c46"/>
<text x="500.72" y="176.66" font-size="4.9" letter-spacing="0.0" text-anchor="middle" style="font-family:'Liberation Sans','Noto Sans CJK JP',sans-serif">★</text>
<text x="500.72" y="185.26" font-size="7.4" fill="#5e5e5e" text-anchor="middle">**</text>
<rect x="508.16" y="170.68" width="13.60" height="14.68" fill="#f5e2da"/>
<rect x="522.40" y="170.68" width="13.60" height="14.68" fill="#fdfaf9"/>
<rect x="541.04" y="170.68" width="13.60" height="14.68" fill="#f9f1ed"/>
<rect x="133.52" y="186.00" width="13.60" height="14.68" fill="#ec846f"/>
<text x="140.32" y="200.58" font-size="7.4" fill="#5e5e5e" text-anchor="middle">*</text>
<rect x="147.76" y="186.00" width="13.60" height="14.68" fill="#fdfaf9"/>
<rect x="162.00" y="186.00" width="13.60" height="14.68" fill="#f23d28"/>
<text x="168.80" y="191.98" font-size="4.9" letter-spacing="0.0" text-anchor="middle" style="font-family:'Liberation Sans','Noto Sans CJK JP',sans-serif">★★</text>
<text x="168.80" y="200.58" font-size="7.4" fill="#5e5e5e" text-anchor="middle">***</text>
<rect x="176.24" y="186.00" width="13.60" height="14.68" fill="#f82110"/>
<text x="183.04" y="191.98" font-size="4.9" letter-spacing="0.0" text-anchor="middle" style="font-family:'Liberation Sans','Noto Sans CJK JP',sans-serif">★★★</text>
<text x="183.04" y="200.58" font-size="7.4" fill="#5e5e5e" text-anchor="middle">***</text>
<rect x="190.48" y="186.00" width="13.60" height="14.68" fill="#f33823"/>
<text x="197.28" y="191.98" font-size="4.9" letter-spacing="0.0" text-anchor="middle" style="font-family:'Liberation Sans','Noto Sans CJK JP',sans-serif">★★</text>
<text x="197.28" y="200.58" font-size="7.4" fill="#5e5e5e" text-anchor="middle">***</text>
<rect x="204.72" y="186.00" width="13.60" height="14.68" fill="#ec6952"/>
<text x="211.52" y="191.98" font-size="4.9" letter-spacing="0.0" text-anchor="middle" style="font-family:'Liberation Sans','Noto Sans CJK JP',sans-serif">★</text>
<text x="211.52" y="200.58" font-size="7.4" fill="#5e5e5e" text-anchor="middle">**</text>
<rect x="218.96" y="186.00" width="13.60" height="14.68" fill="#f2402c"/>
<text x="225.76" y="191.98" font-size="4.9" letter-spacing="0.0" text-anchor="middle" style="font-family:'Liberation Sans','Noto Sans CJK JP',sans-serif">★★</text>
<text x="225.76" y="200.58" font-size="7.4" fill="#5e5e5e" text-anchor="middle">***</text>
<rect x="233.20" y="186.00" width="13.60" height="14.68" fill="#ee5c46"/>
<text x="240.00" y="191.98" font-size="4.9" letter-spacing="0.0" text-anchor="middle" style="font-family:'Liberation Sans','Noto Sans CJK JP',sans-serif">★</text>
<text x="240.00" y="200.58" font-size="7.4" fill="#5e5e5e" text-anchor="middle">**</text>
<rect x="247.44" y="186.00" width="13.60" height="14.68" fill="#ee5c46"/>
<text x="254.24" y="191.98" font-size="4.9" letter-spacing="0.0" text-anchor="middle" style="font-family:'Liberation Sans','Noto Sans CJK JP',sans-serif">★</text>
<text x="254.24" y="200.58" font-size="7.4" fill="#5e5e5e" text-anchor="middle">**</text>
<rect x="261.68" y="186.00" width="13.60" height="14.68" fill="#f33823"/>
<text x="268.48" y="191.98" font-size="4.9" letter-spacing="0.0" text-anchor="middle" style="font-family:'Liberation Sans','Noto Sans CJK JP',sans-serif">★★</text>
<text x="268.48" y="200.58" font-size="7.4" fill="#5e5e5e" text-anchor="middle">***</text>
<rect x="275.92" y="186.00" width="13.60" height="14.68" fill="#ee5c46"/>
<text x="282.72" y="191.98" font-size="4.9" letter-spacing="0.0" text-anchor="middle" style="font-family:'Liberation Sans','Noto Sans CJK JP',sans-serif">★</text>
<text x="282.72" y="200.58" font-size="7.4" fill="#5e5e5e" text-anchor="middle">**</text>
<rect x="290.16" y="186.00" width="13.60" height="14.68" fill="#ee5c46"/>
<text x="296.96" y="191.98" font-size="4.9" letter-spacing="0.0" text-anchor="middle" style="font-family:'Liberation Sans','Noto Sans CJK JP',sans-serif">★</text>
<text x="296.96" y="200.58" font-size="7.4" fill="#5e5e5e" text-anchor="middle">**</text>
<rect x="304.40" y="186.00" width="13.60" height="14.68" fill="#ee5c46"/>
<text x="311.20" y="191.98" font-size="4.9" letter-spacing="0.0" text-anchor="middle" style="font-family:'Liberation Sans','Noto Sans CJK JP',sans-serif">★</text>
<text x="311.20" y="200.58" font-size="7.4" fill="#5e5e5e" text-anchor="middle">**</text>
<rect x="318.64" y="186.00" width="13.60" height="14.68" fill="#ee5c46"/>
<text x="325.44" y="191.98" font-size="4.9" letter-spacing="0.0" text-anchor="middle" style="font-family:'Liberation Sans','Noto Sans CJK JP',sans-serif">★</text>
<text x="325.44" y="200.58" font-size="7.4" fill="#5e5e5e" text-anchor="middle">*</text>
<rect x="332.88" y="186.00" width="13.60" height="14.68" fill="#ec8974"/>
<text x="339.68" y="200.58" font-size="7.4" fill="#5e5e5e" text-anchor="middle">*</text>
<rect x="347.12" y="186.00" width="13.60" height="14.68" fill="#ec937e"/>
<text x="353.92" y="200.58" font-size="7.4" fill="#5e5e5e" text-anchor="middle">*</text>
<rect x="361.36" y="186.00" width="13.60" height="14.68" fill="#ec8974"/>
<text x="368.16" y="200.58" font-size="7.4" fill="#5e5e5e" text-anchor="middle">*</text>
<rect x="375.60" y="186.00" width="13.60" height="14.68" fill="#ee5c46"/>
<text x="382.40" y="191.98" font-size="4.9" letter-spacing="0.0" text-anchor="middle" style="font-family:'Liberation Sans','Noto Sans CJK JP',sans-serif">★</text>
<text x="382.40" y="200.58" font-size="7.4" fill="#5e5e5e" text-anchor="middle">**</text>
<rect x="389.84" y="186.00" width="13.60" height="14.68" fill="#f52d19"/>
<text x="396.64" y="191.98" font-size="4.9" letter-spacing="0.0" text-anchor="middle" style="font-family:'Liberation Sans','Noto Sans CJK JP',sans-serif">★★</text>
<text x="396.64" y="200.58" font-size="7.4" fill="#5e5e5e" text-anchor="middle">***</text>
<rect x="404.08" y="186.00" width="13.60" height="14.68" fill="#ec937e"/>
<text x="410.88" y="200.58" font-size="7.4" fill="#5e5e5e" text-anchor="middle">*</text>
<rect x="418.32" y="186.00" width="13.60" height="14.68" fill="#ee5c46"/>
<text x="425.12" y="191.98" font-size="4.9" letter-spacing="0.0" text-anchor="middle" style="font-family:'Liberation Sans','Noto Sans CJK JP',sans-serif">★</text>
<text x="425.12" y="200.58" font-size="7.4" fill="#5e5e5e" text-anchor="middle">**</text>
<rect x="432.56" y="186.00" width="13.60" height="14.68" fill="#ee5c46"/>
<text x="439.36" y="191.98" font-size="4.9" letter-spacing="0.0" text-anchor="middle" style="font-family:'Liberation Sans','Noto Sans CJK JP',sans-serif">★</text>
<text x="439.36" y="200.58" font-size="7.4" fill="#5e5e5e" text-anchor="middle">**</text>
<rect x="446.80" y="186.00" width="13.60" height="14.68" fill="#eca18d"/>
<rect x="461.04" y="186.00" width="13.60" height="14.68" fill="#ee5c46"/>
<text x="467.84" y="191.98" font-size="4.9" letter-spacing="0.0" text-anchor="middle" style="font-family:'Liberation Sans','Noto Sans CJK JP',sans-serif">★</text>
<text x="467.84" y="200.58" font-size="7.4" fill="#5e5e5e" text-anchor="middle">**</text>
<rect x="475.28" y="186.00" width="13.60" height="14.68" fill="#ec8974"/>
<text x="482.08" y="200.58" font-size="7.4" fill="#5e5e5e" text-anchor="middle">*</text>
<rect x="493.92" y="186.00" width="13.60" height="14.68" fill="#efb7a6"/>
<rect x="508.16" y="186.00" width="13.60" height="14.68" fill="#f3d8cc"/>
<rect x="522.40" y="186.00" width="13.60" height="14.68" fill="#eeb2a0"/>
<rect x="541.04" y="186.00" width="13.60" height="14.68" fill="#f1cdbe"/>
<rect x="133.52" y="201.32" width="13.60" height="14.68" fill="#f9f1ed"/>
<rect x="147.76" y="201.32" width="13.60" height="14.68" fill="#f3eaff"/>
<rect x="162.00" y="201.32" width="13.60" height="14.68" fill="#f5e2da"/>
<rect x="176.24" y="201.32" width="13.60" height="14.68" fill="#d2b5ff"/>
<rect x="190.48" y="201.32" width="13.60" height="14.68" fill="#eddfff"/>
<rect x="204.72" y="201.32" width="13.60" height="14.68" fill="#fdfaf9"/>
<rect x="218.96" y="201.32" width="13.60" height="14.68" fill="#d2b5ff"/>
<rect x="233.20" y="201.32" width="13.60" height="14.68" fill="#9c70ff"/>
<text x="240.00" y="215.90" font-size="7.4" fill="#5e5e5e" text-anchor="middle">*</text>
<rect x="247.44" y="201.32" width="13.60" height="14.68" fill="#f3eaff"/>
<rect x="261.68" y="201.32" width="13.60" height="14.68" fill="#fcfaff"/>
<rect x="275.92" y="201.32" width="13.60" height="14.68" fill="#fdfaf9"/>
<rect x="290.16" y="201.32" width="13.60" height="14.68" fill="#fdfaf9"/>
<rect x="304.40" y="201.32" width="13.60" height="14.68" fill="#f9f1ed"/>
<rect x="318.64" y="201.32" width="13.60" height="14.68" fill="#d2b5ff"/>
<rect x="332.88" y="201.32" width="13.60" height="14.68" fill="#e0caff"/>
<rect x="347.12" y="201.32" width="13.60" height="14.68" fill="#f3d8cc"/>
<rect x="361.36" y="201.32" width="13.60" height="14.68" fill="#d2b5ff"/>
<rect x="375.60" y="201.32" width="13.60" height="14.68" fill="#e0caff"/>
<rect x="389.84" y="201.32" width="13.60" height="14.68" fill="#d5bbff"/>
<rect x="404.08" y="201.32" width="13.60" height="14.68" fill="#f0e4ff"/>
<rect x="418.32" y="201.32" width="13.60" height="14.68" fill="#f7ede7"/>
<rect x="432.56" y="201.32" width="13.60" height="14.68" fill="#f7ede7"/>
<rect x="446.80" y="201.32" width="13.60" height="14.68" fill="#f4ddd3"/>
<rect x="461.04" y="201.32" width="13.60" height="14.68" fill="#f6efff"/>
<rect x="475.28" y="201.32" width="13.60" height="14.68" fill="#ffffff"/>
<rect x="493.92" y="201.32" width="13.60" height="14.68" fill="#f2d2c5"/>
<rect x="508.16" y="201.32" width="13.60" height="14.68" fill="#fbf6f3"/>
<rect x="522.40" y="201.32" width="13.60" height="14.68" fill="#f6efff"/>
<rect x="541.04" y="201.32" width="13.60" height="14.68" fill="#fbf6f3"/>
<rect x="133.52" y="216.64" width="13.60" height="14.68" fill="#ee5c46"/>
<text x="140.32" y="222.62" font-size="4.9" letter-spacing="0.0" text-anchor="middle" style="font-family:'Liberation Sans','Noto Sans CJK JP',sans-serif">★</text>
<text x="140.32" y="231.22" font-size="7.4" fill="#5e5e5e" text-anchor="middle">**</text>
<rect x="147.76" y="216.64" width="13.60" height="14.68" fill="#fdfaf9"/>
<rect x="162.00" y="216.64" width="13.60" height="14.68" fill="#f91f0e"/>
<text x="168.80" y="222.62" font-size="4.9" letter-spacing="0.0" text-anchor="middle" style="font-family:'Liberation Sans','Noto Sans CJK JP',sans-serif">★★★</text>
<text x="168.80" y="231.22" font-size="7.4" fill="#5e5e5e" text-anchor="middle">***</text>
<rect x="176.24" y="216.64" width="13.60" height="14.68" fill="#f91f0e"/>
<text x="183.04" y="222.62" font-size="4.9" letter-spacing="0.0" text-anchor="middle" style="font-family:'Liberation Sans','Noto Sans CJK JP',sans-serif">★★★</text>
<text x="183.04" y="231.22" font-size="7.4" fill="#5e5e5e" text-anchor="middle">***</text>
<rect x="190.48" y="216.64" width="13.60" height="14.68" fill="#f91f0e"/>
<text x="197.28" y="222.62" font-size="4.9" letter-spacing="0.0" text-anchor="middle" style="font-family:'Liberation Sans','Noto Sans CJK JP',sans-serif">★★★</text>
<text x="197.28" y="231.22" font-size="7.4" fill="#5e5e5e" text-anchor="middle">***</text>
<rect x="204.72" y="216.64" width="13.60" height="14.68" fill="#f91f0e"/>
<text x="211.52" y="222.62" font-size="4.9" letter-spacing="0.0" text-anchor="middle" style="font-family:'Liberation Sans','Noto Sans CJK JP',sans-serif">★★★</text>
<text x="211.52" y="231.22" font-size="7.4" fill="#5e5e5e" text-anchor="middle">***</text>
<rect x="218.96" y="216.64" width="13.60" height="14.68" fill="#f91f0e"/>
<text x="225.76" y="222.62" font-size="4.9" letter-spacing="0.0" text-anchor="middle" style="font-family:'Liberation Sans','Noto Sans CJK JP',sans-serif">★★★</text>
<text x="225.76" y="231.22" font-size="7.4" fill="#5e5e5e" text-anchor="middle">***</text>
<rect x="233.20" y="216.64" width="13.60" height="14.68" fill="#ee5c46"/>
<text x="240.00" y="222.62" font-size="4.9" letter-spacing="0.0" text-anchor="middle" style="font-family:'Liberation Sans','Noto Sans CJK JP',sans-serif">★</text>
<text x="240.00" y="231.22" font-size="7.4" fill="#5e5e5e" text-anchor="middle">**</text>
<rect x="247.44" y="216.64" width="13.60" height="14.68" fill="#f91f0e"/>
<text x="254.24" y="222.62" font-size="4.9" letter-spacing="0.0" text-anchor="middle" style="font-family:'Liberation Sans','Noto Sans CJK JP',sans-serif">★★★</text>
<text x="254.24" y="231.22" font-size="7.4" fill="#5e5e5e" text-anchor="middle">***</text>
<rect x="261.68" y="216.64" width="13.60" height="14.68" fill="#f43420"/>
<text x="268.48" y="222.62" font-size="4.9" letter-spacing="0.0" text-anchor="middle" style="font-family:'Liberation Sans','Noto Sans CJK JP',sans-serif">★★</text>
<text x="268.48" y="231.22" font-size="7.4" fill="#5e5e5e" text-anchor="middle">***</text>
<rect x="275.92" y="216.64" width="13.60" height="14.68" fill="#f43420"/>
<text x="282.72" y="222.62" font-size="4.9" letter-spacing="0.0" text-anchor="middle" style="font-family:'Liberation Sans','Noto Sans CJK JP',sans-serif">★★</text>
<text x="282.72" y="231.22" font-size="7.4" fill="#5e5e5e" text-anchor="middle">***</text>
<rect x="290.16" y="216.64" width="13.60" height="14.68" fill="#f43420"/>
<text x="296.96" y="222.62" font-size="4.9" letter-spacing="0.0" text-anchor="middle" style="font-family:'Liberation Sans','Noto Sans CJK JP',sans-serif">★★</text>
<text x="296.96" y="231.22" font-size="7.4" fill="#5e5e5e" text-anchor="middle">***</text>
<rect x="304.40" y="216.64" width="13.60" height="14.68" fill="#f33823"/>
<text x="311.20" y="222.62" font-size="4.9" letter-spacing="0.0" text-anchor="middle" style="font-family:'Liberation Sans','Noto Sans CJK JP',sans-serif">★★</text>
<text x="311.20" y="231.22" font-size="7.4" fill="#5e5e5e" text-anchor="middle">**</text>
<rect x="318.64" y="216.64" width="13.60" height="14.68" fill="#f33823"/>
<text x="325.44" y="222.62" font-size="4.9" letter-spacing="0.0" text-anchor="middle" style="font-family:'Liberation Sans','Noto Sans CJK JP',sans-serif">★★</text>
<text x="325.44" y="231.22" font-size="7.4" fill="#5e5e5e" text-anchor="middle">**</text>
<rect x="332.88" y="216.64" width="13.60" height="14.68" fill="#f72614"/>
<text x="339.68" y="222.62" font-size="4.9" letter-spacing="0.0" text-anchor="middle" style="font-family:'Liberation Sans','Noto Sans CJK JP',sans-serif">★★</text>
<text x="339.68" y="231.22" font-size="7.4" fill="#5e5e5e" text-anchor="middle">***</text>
<rect x="347.12" y="216.64" width="13.60" height="14.68" fill="#ee5c46"/>
<text x="353.92" y="222.62" font-size="4.9" letter-spacing="0.0" text-anchor="middle" style="font-family:'Liberation Sans','Noto Sans CJK JP',sans-serif">★</text>
<text x="353.92" y="231.22" font-size="7.4" fill="#5e5e5e" text-anchor="middle">**</text>
<rect x="361.36" y="216.64" width="13.60" height="14.68" fill="#ee5c46"/>
<text x="368.16" y="222.62" font-size="4.9" letter-spacing="0.0" text-anchor="middle" style="font-family:'Liberation Sans','Noto Sans CJK JP',sans-serif">★</text>
<text x="368.16" y="231.22" font-size="7.4" fill="#5e5e5e" text-anchor="middle">**</text>
<rect x="375.60" y="216.64" width="13.60" height="14.68" fill="#f33823"/>
<text x="382.40" y="222.62" font-size="4.9" letter-spacing="0.0" text-anchor="middle" style="font-family:'Liberation Sans','Noto Sans CJK JP',sans-serif">★★</text>
<text x="382.40" y="231.22" font-size="7.4" fill="#5e5e5e" text-anchor="middle">***</text>
<rect x="389.84" y="216.64" width="13.60" height="14.68" fill="#ee5c46"/>
<text x="396.64" y="222.62" font-size="4.9" letter-spacing="0.0" text-anchor="middle" style="font-family:'Liberation Sans','Noto Sans CJK JP',sans-serif">★</text>
<text x="396.64" y="231.22" font-size="7.4" fill="#5e5e5e" text-anchor="middle">**</text>
<rect x="404.08" y="216.64" width="13.60" height="14.68" fill="#ee5c46"/>
<text x="410.88" y="222.62" font-size="4.9" letter-spacing="0.0" text-anchor="middle" style="font-family:'Liberation Sans','Noto Sans CJK JP',sans-serif">★</text>
<text x="410.88" y="231.22" font-size="7.4" fill="#5e5e5e" text-anchor="middle">*</text>
<rect x="418.32" y="216.64" width="13.60" height="14.68" fill="#f33823"/>
<text x="425.12" y="222.62" font-size="4.9" letter-spacing="0.0" text-anchor="middle" style="font-family:'Liberation Sans','Noto Sans CJK JP',sans-serif">★★</text>
<text x="425.12" y="231.22" font-size="7.4" fill="#5e5e5e" text-anchor="middle">***</text>
<rect x="432.56" y="216.64" width="13.60" height="14.68" fill="#ee5c46"/>
<text x="439.36" y="222.62" font-size="4.9" letter-spacing="0.0" text-anchor="middle" style="font-family:'Liberation Sans','Noto Sans CJK JP',sans-serif">★</text>
<text x="439.36" y="231.22" font-size="7.4" fill="#5e5e5e" text-anchor="middle">**</text>
<rect x="446.80" y="216.64" width="13.60" height="14.68" fill="#ec937e"/>
<text x="453.60" y="231.22" font-size="7.4" fill="#5e5e5e" text-anchor="middle">*</text>
<rect x="461.04" y="216.64" width="13.60" height="14.68" fill="#f43420"/>
<text x="467.84" y="222.62" font-size="4.9" letter-spacing="0.0" text-anchor="middle" style="font-family:'Liberation Sans','Noto Sans CJK JP',sans-serif">★★</text>
<text x="467.84" y="231.22" font-size="7.4" fill="#5e5e5e" text-anchor="middle">***</text>
<rect x="475.28" y="216.64" width="13.60" height="14.68" fill="#ee5c46"/>
<text x="482.08" y="222.62" font-size="4.9" letter-spacing="0.0" text-anchor="middle" style="font-family:'Liberation Sans','Noto Sans CJK JP',sans-serif">★</text>
<text x="482.08" y="231.22" font-size="7.4" fill="#5e5e5e" text-anchor="middle">**</text>
<rect x="493.92" y="216.64" width="13.60" height="14.68" fill="#f3d8cc"/>
<rect x="508.16" y="216.64" width="13.60" height="14.68" fill="#f4ddd3"/>
<rect x="522.40" y="216.64" width="13.60" height="14.68" fill="#f7ede7"/>
<rect x="541.04" y="216.64" width="13.60" height="14.68" fill="#f1cdbe"/>
<rect x="133.52" y="231.96" width="13.60" height="14.68" fill="#eda693"/>
<rect x="147.76" y="231.96" width="13.60" height="14.68" fill="#eda693"/>
<rect x="162.00" y="231.96" width="13.60" height="14.68" fill="#ee5c46"/>
<text x="168.80" y="237.94" font-size="4.9" letter-spacing="0.0" text-anchor="middle" style="font-family:'Liberation Sans','Noto Sans CJK JP',sans-serif">★</text>
<text x="168.80" y="246.54" font-size="7.4" fill="#5e5e5e" text-anchor="middle">**</text>
<rect x="176.24" y="231.96" width="13.60" height="14.68" fill="#f33823"/>
<text x="183.04" y="237.94" font-size="4.9" letter-spacing="0.0" text-anchor="middle" style="font-family:'Liberation Sans','Noto Sans CJK JP',sans-serif">★★</text>
<text x="183.04" y="246.54" font-size="7.4" fill="#5e5e5e" text-anchor="middle">***</text>
<rect x="190.48" y="231.96" width="13.60" height="14.68" fill="#f33823"/>
<text x="197.28" y="237.94" font-size="4.9" letter-spacing="0.0" text-anchor="middle" style="font-family:'Liberation Sans','Noto Sans CJK JP',sans-serif">★★</text>
<text x="197.28" y="246.54" font-size="7.4" fill="#5e5e5e" text-anchor="middle">***</text>
<rect x="204.72" y="231.96" width="13.60" height="14.68" fill="#f91f0e"/>
<text x="211.52" y="237.94" font-size="4.9" letter-spacing="0.0" text-anchor="middle" style="font-family:'Liberation Sans','Noto Sans CJK JP',sans-serif">★★★</text>
<text x="211.52" y="246.54" font-size="7.4" fill="#5e5e5e" text-anchor="middle">***</text>
<rect x="218.96" y="231.96" width="13.60" height="14.68" fill="#edac99"/>
<rect x="233.20" y="231.96" width="13.60" height="14.68" fill="#f1cdbe"/>
<rect x="247.44" y="231.96" width="13.60" height="14.68" fill="#ee5c46"/>
<text x="254.24" y="237.94" font-size="4.9" letter-spacing="0.0" text-anchor="middle" style="font-family:'Liberation Sans','Noto Sans CJK JP',sans-serif">★</text>
<text x="254.24" y="246.54" font-size="7.4" fill="#5e5e5e" text-anchor="middle">**</text>
<rect x="261.68" y="231.96" width="13.60" height="14.68" fill="#f43420"/>
<text x="268.48" y="237.94" font-size="4.9" letter-spacing="0.0" text-anchor="middle" style="font-family:'Liberation Sans','Noto Sans CJK JP',sans-serif">★★</text>
<text x="268.48" y="246.54" font-size="7.4" fill="#5e5e5e" text-anchor="middle">***</text>
<rect x="275.92" y="231.96" width="13.60" height="14.68" fill="#ee5c46"/>
<text x="282.72" y="237.94" font-size="4.9" letter-spacing="0.0" text-anchor="middle" style="font-family:'Liberation Sans','Noto Sans CJK JP',sans-serif">★</text>
<text x="282.72" y="246.54" font-size="7.4" fill="#5e5e5e" text-anchor="middle">**</text>
<rect x="290.16" y="231.96" width="13.60" height="14.68" fill="#f33823"/>
<text x="296.96" y="237.94" font-size="4.9" letter-spacing="0.0" text-anchor="middle" style="font-family:'Liberation Sans','Noto Sans CJK JP',sans-serif">★★</text>
<text x="296.96" y="246.54" font-size="7.4" fill="#5e5e5e" text-anchor="middle">***</text>
<rect x="304.40" y="231.96" width="13.60" height="14.68" fill="#ec8974"/>
<text x="311.20" y="246.54" font-size="7.4" fill="#5e5e5e" text-anchor="middle">*</text>
<rect x="318.64" y="231.96" width="13.60" height="14.68" fill="#eda693"/>
<rect x="332.88" y="231.96" width="13.60" height="14.68" fill="#f33823"/>
<text x="339.68" y="237.94" font-size="4.9" letter-spacing="0.0" text-anchor="middle" style="font-family:'Liberation Sans','Noto Sans CJK JP',sans-serif">★★</text>
<text x="339.68" y="246.54" font-size="7.4" fill="#5e5e5e" text-anchor="middle">***</text>
<rect x="347.12" y="231.96" width="13.60" height="14.68" fill="#ef553f"/>
<text x="353.92" y="237.94" font-size="4.9" letter-spacing="0.0" text-anchor="middle" style="font-family:'Liberation Sans','Noto Sans CJK JP',sans-serif">★★</text>
<text x="353.92" y="246.54" font-size="7.4" fill="#5e5e5e" text-anchor="middle">***</text>
<rect x="361.36" y="231.96" width="13.60" height="14.68" fill="#ec937e"/>
<text x="368.16" y="246.54" font-size="7.4" fill="#5e5e5e" text-anchor="middle">*</text>
<rect x="375.60" y="231.96" width="13.60" height="14.68" fill="#efb7a6"/>
<rect x="389.84" y="231.96" width="13.60" height="14.68" fill="#f4ddd3"/>
<rect x="404.08" y="231.96" width="13.60" height="14.68" fill="#efbcac"/>
<rect x="418.32" y="231.96" width="13.60" height="14.68" fill="#ee5c46"/>
<text x="425.12" y="237.94" font-size="4.9" letter-spacing="0.0" text-anchor="middle" style="font-family:'Liberation Sans','Noto Sans CJK JP',sans-serif">★</text>
<text x="425.12" y="246.54" font-size="7.4" fill="#5e5e5e" text-anchor="middle">**</text>
<rect x="432.56" y="231.96" width="13.60" height="14.68" fill="#ec937e"/>
<text x="439.36" y="246.54" font-size="7.4" fill="#5e5e5e" text-anchor="middle">*</text>
<rect x="446.80" y="231.96" width="13.60" height="14.68" fill="#ee5c46"/>
<text x="453.60" y="237.94" font-size="4.9" letter-spacing="0.0" text-anchor="middle" style="font-family:'Liberation Sans','Noto Sans CJK JP',sans-serif">★</text>
<text x="453.60" y="246.54" font-size="7.4" fill="#5e5e5e" text-anchor="middle">**</text>
<rect x="461.04" y="231.96" width="13.60" height="14.68" fill="#ee5c46"/>
<text x="467.84" y="237.94" font-size="4.9" letter-spacing="0.0" text-anchor="middle" style="font-family:'Liberation Sans','Noto Sans CJK JP',sans-serif">★</text>
<text x="467.84" y="246.54" font-size="7.4" fill="#5e5e5e" text-anchor="middle">**</text>
<rect x="475.28" y="231.96" width="13.60" height="14.68" fill="#ec937e"/>
<text x="482.08" y="246.54" font-size="7.4" fill="#5e5e5e" text-anchor="middle">*</text>
<rect x="493.92" y="231.96" width="13.60" height="14.68" fill="#f04e38"/>
<text x="500.72" y="237.94" font-size="4.9" letter-spacing="0.0" text-anchor="middle" style="font-family:'Liberation Sans','Noto Sans CJK JP',sans-serif">★</text>
<text x="500.72" y="246.54" font-size="7.4" fill="#5e5e5e" text-anchor="middle">**</text>
<rect x="508.16" y="231.96" width="13.60" height="14.68" fill="#eda693"/>
<rect x="522.40" y="231.96" width="13.60" height="14.68" fill="#f33823"/>
<text x="529.20" y="237.94" font-size="4.9" letter-spacing="0.0" text-anchor="middle" style="font-family:'Liberation Sans','Noto Sans CJK JP',sans-serif">★★</text>
<text x="529.20" y="246.54" font-size="7.4" fill="#5e5e5e" text-anchor="middle">***</text>
<rect x="541.04" y="231.96" width="13.60" height="14.68" fill="#f9f1ed"/>
<rect x="133.52" y="247.28" width="13.60" height="14.68" fill="#ec937e"/>
<text x="140.32" y="261.86" font-size="7.4" fill="#5e5e5e" text-anchor="middle">*</text>
<rect x="147.76" y="247.28" width="13.60" height="14.68" fill="#ee5c46"/>
<text x="154.56" y="253.26" font-size="4.9" letter-spacing="0.0" text-anchor="middle" style="font-family:'Liberation Sans','Noto Sans CJK JP',sans-serif">★</text>
<text x="154.56" y="261.86" font-size="7.4" fill="#5e5e5e" text-anchor="middle">**</text>
<rect x="162.00" y="247.28" width="13.60" height="14.68" fill="#efbcac"/>
<rect x="176.24" y="247.28" width="13.60" height="14.68" fill="#edac99"/>
<rect x="190.48" y="247.28" width="13.60" height="14.68" fill="#edac99"/>
<rect x="204.72" y="247.28" width="13.60" height="14.68" fill="#ee5c46"/>
<text x="211.52" y="253.26" font-size="4.9" letter-spacing="0.0" text-anchor="middle" style="font-family:'Liberation Sans','Noto Sans CJK JP',sans-serif">★</text>
<text x="211.52" y="261.86" font-size="7.4" fill="#5e5e5e" text-anchor="middle">**</text>
<rect x="218.96" y="247.28" width="13.60" height="14.68" fill="#f2d2c5"/>
<rect x="233.20" y="247.28" width="13.60" height="14.68" fill="#fdfaf9"/>
<rect x="247.44" y="247.28" width="13.60" height="14.68" fill="#efbcac"/>
<rect x="261.68" y="247.28" width="13.60" height="14.68" fill="#edac99"/>
<rect x="275.92" y="247.28" width="13.60" height="14.68" fill="#f1cdbe"/>
<rect x="290.16" y="247.28" width="13.60" height="14.68" fill="#efbcac"/>
<rect x="304.40" y="247.28" width="13.60" height="14.68" fill="#f4ddd3"/>
<rect x="318.64" y="247.28" width="13.60" height="14.68" fill="#f9f1ed"/>
<rect x="332.88" y="247.28" width="13.60" height="14.68" fill="#eda693"/>
<rect x="347.12" y="247.28" width="13.60" height="14.68" fill="#f91a0a"/>
<text x="353.92" y="253.26" font-size="4.9" letter-spacing="0.0" text-anchor="middle" style="font-family:'Liberation Sans','Noto Sans CJK JP',sans-serif">★★★</text>
<text x="353.92" y="261.86" font-size="7.4" fill="#5e5e5e" text-anchor="middle">***</text>
<rect x="361.36" y="247.28" width="13.60" height="14.68" fill="#f1c8b8"/>
<rect x="375.60" y="247.28" width="13.60" height="14.68" fill="#f9f1ed"/>
<rect x="389.84" y="247.28" width="13.60" height="14.68" fill="#f2d2c5"/>
<rect x="404.08" y="247.28" width="13.60" height="14.68" fill="#f0c2b2"/>
<rect x="418.32" y="247.28" width="13.60" height="14.68" fill="#eda693"/>
<rect x="432.56" y="247.28" width="13.60" height="14.68" fill="#ec937e"/>
<text x="439.36" y="261.86" font-size="7.4" fill="#5e5e5e" text-anchor="middle">*</text>
<rect x="446.80" y="247.28" width="13.60" height="14.68" fill="#eda693"/>
<rect x="461.04" y="247.28" width="13.60" height="14.68" fill="#f0c2b2"/>
<rect x="475.28" y="247.28" width="13.60" height="14.68" fill="#f1c8b8"/>
<rect x="493.92" y="247.28" width="13.60" height="14.68" fill="#f82311"/>
<text x="500.72" y="253.26" font-size="4.9" letter-spacing="0.0" text-anchor="middle" style="font-family:'Liberation Sans','Noto Sans CJK JP',sans-serif">★★</text>
<text x="500.72" y="261.86" font-size="7.4" fill="#5e5e5e" text-anchor="middle">***</text>
<rect x="508.16" y="247.28" width="13.60" height="14.68" fill="#ee5c46"/>
<text x="514.96" y="253.26" font-size="4.9" letter-spacing="0.0" text-anchor="middle" style="font-family:'Liberation Sans','Noto Sans CJK JP',sans-serif">★</text>
<text x="514.96" y="261.86" font-size="7.4" fill="#5e5e5e" text-anchor="middle">**</text>
<rect x="522.40" y="247.28" width="13.60" height="14.68" fill="#ec937e"/>
<text x="529.20" y="261.86" font-size="7.4" fill="#5e5e5e" text-anchor="middle">*</text>
<rect x="541.04" y="247.28" width="13.60" height="14.68" fill="#f6efff"/>
<rect x="133.52" y="267.00" width="13.60" height="14.68" fill="#f2d2c5"/>
<rect x="147.76" y="267.00" width="13.60" height="14.68" fill="#eda693"/>
<rect x="162.00" y="267.00" width="13.60" height="14.68" fill="#f1cdbe"/>
<rect x="176.24" y="267.00" width="13.60" height="14.68" fill="#f0c2b2"/>
<rect x="190.48" y="267.00" width="13.60" height="14.68" fill="#f0c2b2"/>
<rect x="204.72" y="267.00" width="13.60" height="14.68" fill="#efbcac"/>
<rect x="218.96" y="267.00" width="13.60" height="14.68" fill="#f6e8e1"/>
<rect x="233.20" y="267.00" width="13.60" height="14.68" fill="#f9f1ed"/>
<rect x="247.44" y="267.00" width="13.60" height="14.68" fill="#ec7d67"/>
<text x="254.24" y="281.58" font-size="7.4" fill="#5e5e5e" text-anchor="middle">*</text>
<rect x="261.68" y="267.00" width="13.60" height="14.68" fill="#f0c2b2"/>
<rect x="275.92" y="267.00" width="13.60" height="14.68" fill="#ec9580"/>
<rect x="290.16" y="267.00" width="13.60" height="14.68" fill="#f4ddd3"/>
<rect x="304.40" y="267.00" width="13.60" height="14.68" fill="#f3d8cc"/>
<rect x="318.64" y="267.00" width="13.60" height="14.68" fill="#fdfaf9"/>
<rect x="332.88" y="267.00" width="13.60" height="14.68" fill="#f1c8b8"/>
<rect x="347.12" y="267.00" width="13.60" height="14.68" fill="#f2d2c5"/>
<rect x="361.36" y="267.00" width="13.60" height="14.68" fill="#f9f1ed"/>
<rect x="375.60" y="267.00" width="13.60" height="14.68" fill="#e6d5ff"/>
<rect x="389.84" y="267.00" width="13.60" height="14.68" fill="#f9f1ed"/>
<rect x="404.08" y="267.00" width="13.60" height="14.68" fill="#f1c8b8"/>
<rect x="418.32" y="267.00" width="13.60" height="14.68" fill="#f1c8b8"/>
<rect x="432.56" y="267.00" width="13.60" height="14.68" fill="#f4ddd3"/>
<rect x="446.80" y="267.00" width="13.60" height="14.68" fill="#efbcac"/>
<rect x="461.04" y="267.00" width="13.60" height="14.68" fill="#f5e2da"/>
<rect x="475.28" y="267.00" width="13.60" height="14.68" fill="#ec745e"/>
<text x="482.08" y="272.98" font-size="4.9" letter-spacing="0.0" text-anchor="middle" style="font-family:'Liberation Sans','Noto Sans CJK JP',sans-serif">★</text>
<text x="482.08" y="281.58" font-size="7.4" fill="#5e5e5e" text-anchor="middle">**</text>
<rect x="493.92" y="267.00" width="13.60" height="14.68" fill="#edac99"/>
<rect x="508.16" y="267.00" width="13.60" height="14.68" fill="#fdfaf9"/>
<rect x="522.40" y="267.00" width="13.60" height="14.68" fill="#ec8a75"/>
<rect x="541.04" y="267.00" width="13.60" height="14.68" fill="#e3cfff"/>
<rect x="133.52" y="282.32" width="13.60" height="14.68" fill="#fcfaff"/>
<rect x="147.76" y="282.32" width="13.60" height="14.68" fill="#996dff"/>
<text x="154.56" y="296.90" font-size="7.4" fill="#5e5e5e" text-anchor="middle">*</text>
<rect x="162.00" y="282.32" width="13.60" height="14.68" fill="#f6efff"/>
<rect x="176.24" y="282.32" width="13.60" height="14.68" fill="#ee5c46"/>
<text x="183.04" y="288.30" font-size="4.9" letter-spacing="0.0" text-anchor="middle" style="font-family:'Liberation Sans','Noto Sans CJK JP',sans-serif">★</text>
<text x="183.04" y="296.90" font-size="7.4" fill="#5e5e5e" text-anchor="middle">**</text>
<rect x="190.48" y="282.32" width="13.60" height="14.68" fill="#eca18d"/>
<rect x="204.72" y="282.32" width="13.60" height="14.68" fill="#eca18d"/>
<rect x="218.96" y="282.32" width="13.60" height="14.68" fill="#ee5c46"/>
<text x="225.76" y="288.30" font-size="4.9" letter-spacing="0.0" text-anchor="middle" style="font-family:'Liberation Sans','Noto Sans CJK JP',sans-serif">★</text>
<text x="225.76" y="296.90" font-size="7.4" fill="#5e5e5e" text-anchor="middle">**</text>
<rect x="233.20" y="282.32" width="13.60" height="14.68" fill="#f82110"/>
<text x="240.00" y="288.30" font-size="4.9" letter-spacing="0.0" text-anchor="middle" style="font-family:'Liberation Sans','Noto Sans CJK JP',sans-serif">★★</text>
<text x="240.00" y="296.90" font-size="7.4" fill="#5e5e5e" text-anchor="middle">***</text>
<rect x="247.44" y="282.32" width="13.60" height="14.68" fill="#f0c2b2"/>
<rect x="261.68" y="282.32" width="13.60" height="14.68" fill="#edac99"/>
<rect x="275.92" y="282.32" width="13.60" height="14.68" fill="#f1cdbe"/>
<rect x="290.16" y="282.32" width="13.60" height="14.68" fill="#eeb2a0"/>
<rect x="304.40" y="282.32" width="13.60" height="14.68" fill="#ec8974"/>
<text x="311.20" y="296.90" font-size="7.4" fill="#5e5e5e" text-anchor="middle">*</text>
<rect x="318.64" y="282.32" width="13.60" height="14.68" fill="#ec937e"/>
<text x="325.44" y="296.90" font-size="7.4" fill="#5e5e5e" text-anchor="middle">*</text>
<rect x="332.88" y="282.32" width="13.60" height="14.68" fill="#ec8974"/>
<text x="339.68" y="296.90" font-size="7.4" fill="#5e5e5e" text-anchor="middle">*</text>
<rect x="347.12" y="282.32" width="13.60" height="14.68" fill="#f6e8e1"/>
<rect x="361.36" y="282.32" width="13.60" height="14.68" fill="#eca18d"/>
<rect x="375.60" y="282.32" width="13.60" height="14.68" fill="#ec7a63"/>
<text x="382.40" y="296.90" font-size="7.4" fill="#5e5e5e" text-anchor="middle">*</text>
<rect x="389.84" y="282.32" width="13.60" height="14.68" fill="#f43420"/>
<text x="396.64" y="288.30" font-size="4.9" letter-spacing="0.0" text-anchor="middle" style="font-family:'Liberation Sans','Noto Sans CJK JP',sans-serif">★★</text>
<text x="396.64" y="296.90" font-size="7.4" fill="#5e5e5e" text-anchor="middle">**</text>
<rect x="404.08" y="282.32" width="13.60" height="14.68" fill="#ec8974"/>
<text x="410.88" y="296.90" font-size="7.4" fill="#5e5e5e" text-anchor="middle">*</text>
<rect x="418.32" y="282.32" width="13.60" height="14.68" fill="#f3d8cc"/>
<rect x="432.56" y="282.32" width="13.60" height="14.68" fill="#f1cdbe"/>
<rect x="446.80" y="282.32" width="13.60" height="14.68" fill="#f6e8e1"/>
<rect x="461.04" y="282.32" width="13.60" height="14.68" fill="#eeb2a0"/>
<rect x="475.28" y="282.32" width="13.60" height="14.68" fill="#e9daff"/>
<rect x="493.92" y="282.32" width="13.60" height="14.68" fill="#e3cfff"/>
<rect x="508.16" y="282.32" width="13.60" height="14.68" fill="#f6efff"/>
<rect x="522.40" y="282.32" width="13.60" height="14.68" fill="#dcc5ff"/>
<rect x="541.04" y="282.32" width="13.60" height="14.68" fill="#ffffff"/>
<rect x="133.52" y="297.64" width="13.60" height="14.68" fill="#f1cdbe"/>
<rect x="147.76" y="297.64" width="13.60" height="14.68" fill="#bc96ff"/>
<rect x="162.00" y="297.64" width="13.60" height="14.68" fill="#ec937e"/>
<text x="168.80" y="312.22" font-size="7.4" fill="#5e5e5e" text-anchor="middle">*</text>
<rect x="176.24" y="297.64" width="13.60" height="14.68" fill="#f0c2b2"/>
<rect x="190.48" y="297.64" width="13.60" height="14.68" fill="#ee5842"/>
<text x="197.28" y="303.62" font-size="4.9" letter-spacing="0.0" text-anchor="middle" style="font-family:'Liberation Sans','Noto Sans CJK JP',sans-serif">★</text>
<text x="197.28" y="312.22" font-size="7.4" fill="#5e5e5e" text-anchor="middle">**</text>
<rect x="204.72" y="297.64" width="13.60" height="14.68" fill="#d2b5ff"/>
<rect x="218.96" y="297.64" width="13.60" height="14.68" fill="#f2d2c5"/>
<rect x="233.20" y="297.64" width="13.60" height="14.68" fill="#fcfaff"/>
<rect x="247.44" y="297.64" width="13.60" height="14.68" fill="#d9c0ff"/>
<rect x="261.68" y="297.64" width="13.60" height="14.68" fill="#ee5c46"/>
<text x="268.48" y="303.62" font-size="4.9" letter-spacing="0.0" text-anchor="middle" style="font-family:'Liberation Sans','Noto Sans CJK JP',sans-serif">★</text>
<text x="268.48" y="312.22" font-size="7.4" fill="#5e5e5e" text-anchor="middle">*</text>
<rect x="275.92" y="297.64" width="13.60" height="14.68" fill="#ee5c46"/>
<text x="282.72" y="303.62" font-size="4.9" letter-spacing="0.0" text-anchor="middle" style="font-family:'Liberation Sans','Noto Sans CJK JP',sans-serif">★</text>
<text x="282.72" y="312.22" font-size="7.4" fill="#5e5e5e" text-anchor="middle">**</text>
<rect x="290.16" y="297.64" width="13.60" height="14.68" fill="#ee5c46"/>
<text x="296.96" y="303.62" font-size="4.9" letter-spacing="0.0" text-anchor="middle" style="font-family:'Liberation Sans','Noto Sans CJK JP',sans-serif">★</text>
<text x="296.96" y="312.22" font-size="7.4" fill="#5e5e5e" text-anchor="middle">**</text>
<rect x="304.40" y="297.64" width="13.60" height="14.68" fill="#f82311"/>
<text x="311.20" y="303.62" font-size="4.9" letter-spacing="0.0" text-anchor="middle" style="font-family:'Liberation Sans','Noto Sans CJK JP',sans-serif">★★</text>
<text x="311.20" y="312.22" font-size="7.4" fill="#5e5e5e" text-anchor="middle">***</text>
<rect x="318.64" y="297.64" width="13.60" height="14.68" fill="#ec937e"/>
<text x="325.44" y="312.22" font-size="7.4" fill="#5e5e5e" text-anchor="middle">*</text>
<rect x="332.88" y="297.64" width="13.60" height="14.68" fill="#e0caff"/>
<rect x="347.12" y="297.64" width="13.60" height="14.68" fill="#e3cfff"/>
<rect x="361.36" y="297.64" width="13.60" height="14.68" fill="#f9f1ed"/>
<rect x="375.60" y="297.64" width="13.60" height="14.68" fill="#fdfaf9"/>
<rect x="389.84" y="297.64" width="13.60" height="14.68" fill="#fdfaf9"/>
<rect x="404.08" y="297.64" width="13.60" height="14.68" fill="#edac99"/>
<rect x="418.32" y="297.64" width="13.60" height="14.68" fill="#f43420"/>
<text x="425.12" y="303.62" font-size="4.9" letter-spacing="0.0" text-anchor="middle" style="font-family:'Liberation Sans','Noto Sans CJK JP',sans-serif">★★</text>
<text x="425.12" y="312.22" font-size="7.4" fill="#5e5e5e" text-anchor="middle">**</text>
<rect x="432.56" y="297.64" width="13.60" height="14.68" fill="#f52d19"/>
<text x="439.36" y="303.62" font-size="4.9" letter-spacing="0.0" text-anchor="middle" style="font-family:'Liberation Sans','Noto Sans CJK JP',sans-serif">★★</text>
<text x="439.36" y="312.22" font-size="7.4" fill="#5e5e5e" text-anchor="middle">***</text>
<rect x="446.80" y="297.64" width="13.60" height="14.68" fill="#f72614"/>
<text x="453.60" y="303.62" font-size="4.9" letter-spacing="0.0" text-anchor="middle" style="font-family:'Liberation Sans','Noto Sans CJK JP',sans-serif">★★</text>
<text x="453.60" y="312.22" font-size="7.4" fill="#5e5e5e" text-anchor="middle">***</text>
<rect x="461.04" y="297.64" width="13.60" height="14.68" fill="#eeb2a0"/>
<rect x="475.28" y="297.64" width="13.60" height="14.68" fill="#f3d8cc"/>
<rect x="493.92" y="297.64" width="13.60" height="14.68" fill="#e3cfff"/>
<rect x="508.16" y="297.64" width="13.60" height="14.68" fill="#e0caff"/>
<rect x="522.40" y="297.64" width="13.60" height="14.68" fill="#eeb2a0"/>
<rect x="541.04" y="297.64" width="13.60" height="14.68" fill="#f3d8cc"/>
<rect x="133.52" y="312.96" width="13.60" height="14.68" fill="#fbf6f3"/>
<rect x="147.76" y="312.96" width="13.60" height="14.68" fill="#f6efff"/>
<rect x="162.00" y="312.96" width="13.60" height="14.68" fill="#f3eaff"/>
<rect x="176.24" y="312.96" width="13.60" height="14.68" fill="#f6e8e1"/>
<rect x="190.48" y="312.96" width="13.60" height="14.68" fill="#f7ede7"/>
<rect x="204.72" y="312.96" width="13.60" height="14.68" fill="#f6efff"/>
<rect x="218.96" y="312.96" width="13.60" height="14.68" fill="#f6e8e1"/>
<rect x="233.20" y="312.96" width="13.60" height="14.68" fill="#f3d8cc"/>
<rect x="247.44" y="312.96" width="13.60" height="14.68" fill="#f1c8b8"/>
<rect x="261.68" y="312.96" width="13.60" height="14.68" fill="#f9f1ed"/>
<rect x="275.92" y="312.96" width="13.60" height="14.68" fill="#e9daff"/>
<rect x="290.16" y="312.96" width="13.60" height="14.68" fill="#f1c8b8"/>
<rect x="304.40" y="312.96" width="13.60" height="14.68" fill="#f9f1ed"/>
<rect x="318.64" y="312.96" width="13.60" height="14.68" fill="#fdfaf9"/>
<rect x="332.88" y="312.96" width="13.60" height="14.68" fill="#f6efff"/>
<rect x="347.12" y="312.96" width="13.60" height="14.68" fill="#f6efff"/>
<rect x="361.36" y="312.96" width="13.60" height="14.68" fill="#f1cdbe"/>
<rect x="375.60" y="312.96" width="13.60" height="14.68" fill="#ffffff"/>
<rect x="389.84" y="312.96" width="13.60" height="14.68" fill="#f7ede7"/>
<rect x="404.08" y="312.96" width="13.60" height="14.68" fill="#f6e8e1"/>
<rect x="418.32" y="312.96" width="13.60" height="14.68" fill="#dec8ff"/>
<rect x="432.56" y="312.96" width="13.60" height="14.68" fill="#dbc3ff"/>
<rect x="446.80" y="312.96" width="13.60" height="14.68" fill="#cbabff"/>
<rect x="461.04" y="312.96" width="13.60" height="14.68" fill="#e8d7ff"/>
<rect x="475.28" y="312.96" width="13.60" height="14.68" fill="#d8beff"/>
<rect x="493.92" y="312.96" width="13.60" height="14.68" fill="#d2b5ff"/>
<rect x="508.16" y="312.96" width="13.60" height="14.68" fill="#fbf6f3"/>
<rect x="522.40" y="312.96" width="13.60" height="14.68" fill="#b48cff"/>
<rect x="541.04" y="312.96" width="13.60" height="14.68" fill="#f9f1ed"/>
<rect x="133.52" y="328.28" width="13.60" height="14.68" fill="#eddfff"/>
<rect x="147.76" y="328.28" width="13.60" height="14.68" fill="#f5e2da"/>
<rect x="162.00" y="328.28" width="13.60" height="14.68" fill="#d2b5ff"/>
<rect x="176.24" y="328.28" width="13.60" height="14.68" fill="#e9daff"/>
<rect x="190.48" y="328.28" width="13.60" height="14.68" fill="#c3a1ff"/>
<rect x="204.72" y="328.28" width="13.60" height="14.68" fill="#f4ddd3"/>
<rect x="218.96" y="328.28" width="13.60" height="14.68" fill="#e9daff"/>
<rect x="233.20" y="328.28" width="13.60" height="14.68" fill="#cbabff"/>
<rect x="247.44" y="328.28" width="13.60" height="14.68" fill="#f2d2c5"/>
<rect x="261.68" y="328.28" width="13.60" height="14.68" fill="#bc96ff"/>
<rect x="275.92" y="328.28" width="13.60" height="14.68" fill="#b48cff"/>
<rect x="290.16" y="328.28" width="13.60" height="14.68" fill="#cbabff"/>
<rect x="304.40" y="328.28" width="13.60" height="14.68" fill="#d2b5ff"/>
<rect x="318.64" y="328.28" width="13.60" height="14.68" fill="#f9f4ff"/>
<rect x="332.88" y="328.28" width="13.60" height="14.68" fill="#f3d7ca"/>
<rect x="347.12" y="328.28" width="13.60" height="14.68" fill="#faf2ef"/>
<rect x="361.36" y="328.28" width="13.60" height="14.68" fill="#f4e0d7"/>
<rect x="375.60" y="328.28" width="13.60" height="14.68" fill="#f4ebff"/>
<rect x="389.84" y="328.28" width="13.60" height="14.68" fill="#d5b9ff"/>
<rect x="404.08" y="328.28" width="13.60" height="14.68" fill="#d8beff"/>
<rect x="418.32" y="328.28" width="13.60" height="14.68" fill="#c09cff"/>
<rect x="432.56" y="328.28" width="13.60" height="14.68" fill="#b189ff"/>
<rect x="446.80" y="328.28" width="13.60" height="14.68" fill="#b992ff"/>
<rect x="461.04" y="328.28" width="13.60" height="14.68" fill="#e2cdff"/>
<rect x="475.28" y="328.28" width="13.60" height="14.68" fill="#ceb0ff"/>
<rect x="493.92" y="328.28" width="13.60" height="14.68" fill="#d2b5ff"/>
<rect x="508.16" y="328.28" width="13.60" height="14.68" fill="#fbf6f3"/>
<rect x="522.40" y="328.28" width="13.60" height="14.68" fill="#cbabff"/>
<rect x="541.04" y="328.28" width="13.60" height="14.68" fill="#f3eaff"/>
<text x="129.3" y="31.86" font-size="7.1" fill="#424242" text-anchor="end">Female</text>
<line x1="130.90" y1="29.06" x2="133.20" y2="29.06" stroke="#333" stroke-width="0.95"/>
<text x="129.3" y="47.18" font-size="7.1" fill="#424242" text-anchor="end">Age</text>
<line x1="130.90" y1="44.38" x2="133.20" y2="44.38" stroke="#333" stroke-width="0.95"/>
<text x="129.3" y="66.90" font-size="7.1" fill="#424242" text-anchor="end">Drug dose</text>
<line x1="130.90" y1="64.10" x2="133.20" y2="64.10" stroke="#333" stroke-width="0.95"/>
<text x="129.3" y="86.62" font-size="7.1" fill="#424242" text-anchor="end">Body weight</text>
<line x1="130.90" y1="83.82" x2="133.20" y2="83.82" stroke="#333" stroke-width="0.95"/>
<text x="129.3" y="106.34" font-size="7.1" fill="#424242" text-anchor="end">CYP2D6 Genetic Activity Score</text>
<line x1="130.90" y1="103.54" x2="133.20" y2="103.54" stroke="#333" stroke-width="0.95"/>
<text x="129.3" y="126.06" font-size="7.1" fill="#424242" text-anchor="end">MRI</text>
<line x1="130.90" y1="123.26" x2="133.20" y2="123.26" stroke="#333" stroke-width="0.95"/>
<text x="129.3" y="145.78" font-size="7.1" fill="#424242" text-anchor="end">Lifetime use of hallucinogens</text>
<line x1="130.90" y1="142.98" x2="133.20" y2="142.98" stroke="#333" stroke-width="0.95"/>
<text x="129.3" y="165.50" font-size="7.1" fill="#424242" text-anchor="end">Performance-Related Activity (AMRS)</text>
<line x1="130.90" y1="162.70" x2="133.20" y2="162.70" stroke="#333" stroke-width="0.95"/>
<text x="129.3" y="180.82" font-size="7.1" fill="#424242" text-anchor="end">General Inactivation (AMRS)</text>
<line x1="130.90" y1="178.02" x2="133.20" y2="178.02" stroke="#333" stroke-width="0.95"/>
<text x="129.3" y="196.14" font-size="7.1" fill="#424242" text-anchor="end">Extraversion (AMRS)</text>
<line x1="130.90" y1="193.34" x2="133.20" y2="193.34" stroke="#333" stroke-width="0.95"/>
<text x="129.3" y="211.46" font-size="7.1" fill="#424242" text-anchor="end">Introversion (AMRS)</text>
<line x1="130.90" y1="208.66" x2="133.20" y2="208.66" stroke="#333" stroke-width="0.95"/>
<text x="129.3" y="226.78" font-size="7.1" fill="#424242" text-anchor="end">General Well-Being (AMRS)</text>
<line x1="130.90" y1="223.98" x2="133.20" y2="223.98" stroke="#333" stroke-width="0.95"/>
<text x="129.3" y="242.10" font-size="7.1" fill="#424242" text-anchor="end">Emotional Excitability (AMRS)</text>
<line x1="130.90" y1="239.30" x2="133.20" y2="239.30" stroke="#333" stroke-width="0.95"/>
<text x="129.3" y="257.42" font-size="7.1" fill="#424242" text-anchor="end">Anxiety (AMRS)</text>
<line x1="130.90" y1="254.62" x2="133.20" y2="254.62" stroke="#333" stroke-width="0.95"/>
<text x="129.3" y="277.14" font-size="7.1" fill="#424242" text-anchor="end">Neuroticism (NEO-FFI)</text>
<line x1="130.90" y1="274.34" x2="133.20" y2="274.34" stroke="#333" stroke-width="0.95"/>
<text x="129.3" y="292.46" font-size="7.1" fill="#424242" text-anchor="end">Extraversion (NEO-FFI)</text>
<line x1="130.90" y1="289.66" x2="133.20" y2="289.66" stroke="#333" stroke-width="0.95"/>
<text x="129.3" y="307.78" font-size="7.1" fill="#424242" text-anchor="end">Openness to Experience (NEO-FFI)</text>
<line x1="130.90" y1="304.98" x2="133.20" y2="304.98" stroke="#333" stroke-width="0.95"/>
<text x="129.3" y="323.10" font-size="7.1" fill="#424242" text-anchor="end">Agreeableness (NEO-FFI)</text>
<line x1="130.90" y1="320.30" x2="133.20" y2="320.30" stroke="#333" stroke-width="0.95"/>
<text x="129.3" y="338.42" font-size="7.1" fill="#424242" text-anchor="end">Conscientiousness (NEO-FFI)</text>
<line x1="130.90" y1="335.62" x2="133.20" y2="335.62" stroke="#333" stroke-width="0.95"/>
<line x1="140.32" y1="343.28" x2="140.32" y2="345.58" stroke="#333" stroke-width="0.95"/>
<text x="143.92" y="350.80" font-size="7.04" fill="#424242" text-anchor="end" transform="rotate(-45 143.92 350.80)">Any drug effects (VAS)</text>
<line x1="154.56" y1="343.28" x2="154.56" y2="345.58" stroke="#333" stroke-width="0.95"/>
<text x="158.16" y="350.80" font-size="7.04" fill="#424242" text-anchor="end" transform="rotate(-45 158.16 350.80)">Bad drug effects (VAS)</text>
<line x1="168.80" y1="343.28" x2="168.80" y2="345.58" stroke="#333" stroke-width="0.95"/>
<text x="172.40" y="350.80" font-size="7.04" fill="#424242" text-anchor="end" transform="rotate(-45 172.40 350.80)">Good drug effects (VAS)</text>
<line x1="183.04" y1="343.28" x2="183.04" y2="345.58" stroke="#333" stroke-width="0.95"/>
<text x="186.64" y="350.80" font-size="7.04" fill="#424242" text-anchor="end" transform="rotate(-45 186.64 350.80)">Altered State of Conciousness (5D-ASC)</text>
<line x1="197.28" y1="343.28" x2="197.28" y2="345.58" stroke="#333" stroke-width="0.95"/>
<text x="200.88" y="350.80" font-size="7.04" fill="#424242" text-anchor="end" transform="rotate(-45 200.88 350.80)">Oceanic Boundlessness (5D-ASC)</text>
<line x1="211.52" y1="343.28" x2="211.52" y2="345.58" stroke="#333" stroke-width="0.95"/>
<text x="215.12" y="350.80" font-size="7.04" fill="#424242" text-anchor="end" transform="rotate(-45 215.12 350.80)">Anxious Ego Dissolution (5D-ASC)</text>
<line x1="225.76" y1="343.28" x2="225.76" y2="345.58" stroke="#333" stroke-width="0.95"/>
<text x="229.36" y="350.80" font-size="7.04" fill="#424242" text-anchor="end" transform="rotate(-45 229.36 350.80)">Visionary Restructuralization (5D-ASC)</text>
<line x1="240.00" y1="343.28" x2="240.00" y2="345.58" stroke="#333" stroke-width="0.95"/>
<text x="243.60" y="350.80" font-size="7.04" fill="#424242" text-anchor="end" transform="rotate(-45 243.60 350.80)">Auditory Alteration (5D-ASC)</text>
<line x1="254.24" y1="343.28" x2="254.24" y2="345.58" stroke="#333" stroke-width="0.95"/>
<text x="257.84" y="350.80" font-size="7.04" fill="#424242" text-anchor="end" transform="rotate(-45 257.84 350.80)">Vigilance Reduction (5D-ASC)</text>
<line x1="268.48" y1="343.28" x2="268.48" y2="345.58" stroke="#333" stroke-width="0.95"/>
<text x="272.08" y="350.80" font-size="7.04" fill="#424242" text-anchor="end" transform="rotate(-45 272.08 350.80)">Experience of Unity (5D-ASC)</text>
<line x1="282.72" y1="343.28" x2="282.72" y2="345.58" stroke="#333" stroke-width="0.95"/>
<text x="286.32" y="350.80" font-size="7.04" fill="#424242" text-anchor="end" transform="rotate(-45 286.32 350.80)">Spiritual Experience (5D-ASC)</text>
<line x1="296.96" y1="343.28" x2="296.96" y2="345.58" stroke="#333" stroke-width="0.95"/>
<text x="300.56" y="350.80" font-size="7.04" fill="#424242" text-anchor="end" transform="rotate(-45 300.56 350.80)">Blissful State (5D-ASC)</text>
<line x1="311.20" y1="343.28" x2="311.20" y2="345.58" stroke="#333" stroke-width="0.95"/>
<text x="314.80" y="350.80" font-size="7.04" fill="#424242" text-anchor="end" transform="rotate(-45 314.80 350.80)">Insightfulness (5D-ASC)</text>
<line x1="325.44" y1="343.28" x2="325.44" y2="345.58" stroke="#333" stroke-width="0.95"/>
<text x="329.04" y="350.80" font-size="7.04" fill="#424242" text-anchor="end" transform="rotate(-45 329.04 350.80)">Disembodiment (5D-ASC)</text>
<line x1="339.68" y1="343.28" x2="339.68" y2="345.58" stroke="#333" stroke-width="0.95"/>
<text x="343.28" y="350.80" font-size="7.04" fill="#424242" text-anchor="end" transform="rotate(-45 343.28 350.80)">Impaired Control and Cognition (5D-ASC)</text>
<line x1="353.92" y1="343.28" x2="353.92" y2="345.58" stroke="#333" stroke-width="0.95"/>
<text x="357.52" y="350.80" font-size="7.04" fill="#424242" text-anchor="end" transform="rotate(-45 357.52 350.80)">Anxiety (5D-ASC)</text>
<line x1="368.16" y1="343.28" x2="368.16" y2="345.58" stroke="#333" stroke-width="0.95"/>
<text x="371.76" y="350.80" font-size="7.04" fill="#424242" text-anchor="end" transform="rotate(-45 371.76 350.80)">Complex Imagery (5D-ASC)</text>
<line x1="382.40" y1="343.28" x2="382.40" y2="345.58" stroke="#333" stroke-width="0.95"/>
<text x="386.00" y="350.80" font-size="7.04" fill="#424242" text-anchor="end" transform="rotate(-45 386.00 350.80)">Elementary Imagery (5D-ASC)</text>
<line x1="396.64" y1="343.28" x2="396.64" y2="345.58" stroke="#333" stroke-width="0.95"/>
<text x="400.24" y="350.80" font-size="7.04" fill="#424242" text-anchor="end" transform="rotate(-45 400.24 350.80)">Audio Visual Synesthesiae (5D-ASC)</text>
<line x1="410.88" y1="343.28" x2="410.88" y2="345.58" stroke="#333" stroke-width="0.95"/>
<text x="414.48" y="350.80" font-size="7.04" fill="#424242" text-anchor="end" transform="rotate(-45 414.48 350.80)">Changed Meaning of Percepts (5D-ASC)</text>
<line x1="425.12" y1="343.28" x2="425.12" y2="345.58" stroke="#333" stroke-width="0.95"/>
<text x="428.72" y="350.80" font-size="7.04" fill="#424242" text-anchor="end" transform="rotate(-45 428.72 350.80)">Total Mystical Experience Score (MEQ30)</text>
<line x1="439.36" y1="343.28" x2="439.36" y2="345.58" stroke="#333" stroke-width="0.95"/>
<text x="442.96" y="350.80" font-size="7.04" fill="#424242" text-anchor="end" transform="rotate(-45 442.96 350.80)">Mystical (MEQ30)</text>
<line x1="453.60" y1="343.28" x2="453.60" y2="345.58" stroke="#333" stroke-width="0.95"/>
<text x="457.20" y="350.80" font-size="7.04" fill="#424242" text-anchor="end" transform="rotate(-45 457.20 350.80)">Positive Mood (MEQ30)</text>
<line x1="467.84" y1="343.28" x2="467.84" y2="345.58" stroke="#333" stroke-width="0.95"/>
<text x="471.44" y="350.80" font-size="7.04" fill="#424242" text-anchor="end" transform="rotate(-45 471.44 350.80)">Transcendence of Space &amp; Time (MEQ30)</text>
<line x1="482.08" y1="343.28" x2="482.08" y2="345.58" stroke="#333" stroke-width="0.95"/>
<text x="485.68" y="350.80" font-size="7.04" fill="#424242" text-anchor="end" transform="rotate(-45 485.68 350.80)">Ineffability (MEQ30)</text>
<line x1="500.72" y1="343.28" x2="500.72" y2="345.58" stroke="#333" stroke-width="0.95"/>
<text x="504.32" y="350.80" font-size="7.04" fill="#424242" text-anchor="end" transform="rotate(-45 504.32 350.80)">Heart Rate</text>
<line x1="514.96" y1="343.28" x2="514.96" y2="345.58" stroke="#333" stroke-width="0.95"/>
<text x="518.56" y="350.80" font-size="7.04" fill="#424242" text-anchor="end" transform="rotate(-45 518.56 350.80)">Mean Arterial Blood Pressure</text>
<line x1="529.20" y1="343.28" x2="529.20" y2="345.58" stroke="#333" stroke-width="0.95"/>
<text x="532.80" y="350.80" font-size="7.04" fill="#424242" text-anchor="end" transform="rotate(-45 532.80 350.80)">Body Temperature</text>
<line x1="547.84" y1="343.28" x2="547.84" y2="345.58" stroke="#333" stroke-width="0.95"/>
<text x="551.44" y="350.80" font-size="7.04" fill="#424242" text-anchor="end" transform="rotate(-45 551.44 350.80)">LSD Blood Plasma Concentration (AUC)</text>
<text x="344.08" y="454.5" font-size="8.8" fill="#000" text-anchor="middle">Response variables</text>
<text x="8.0" y="181.54" font-size="8.8" fill="#000" text-anchor="middle" transform="rotate(-90 8.0 181.54)">Predictor variables</text>
<defs><linearGradient id="lg" x1="0" y1="0" x2="0" y2="1">
<stop offset="0.0000" stop-color="#8f120e"/>
<stop offset="0.0167" stop-color="#93130e"/>
<stop offset="0.0333" stop-color="#97130e"/>
<stop offset="0.0500" stop-color="#9a140f"/>
<stop offset="0.0667" stop-color="#9e150f"/>
<stop offset="0.0833" stop-color="#a2160f"/>
<stop offset="0.1000" stop-color="#a6160f"/>
<stop offset="0.1167" stop-color="#aa1710"/>
<stop offset="0.1333" stop-color="#ad1810"/>
<stop offset="0.1500" stop-color="#b11810"/>
<stop offset="0.1667" stop-color="#b61910"/>
<stop offset="0.1833" stop-color="#ba1911"/>
<stop offset="0.2000" stop-color="#be1a11"/>
<stop offset="0.2167" stop-color="#c31b11"/>
<stop offset="0.2333" stop-color="#c71b12"/>
<stop offset="0.2500" stop-color="#cb1c12"/>
<stop offset="0.2667" stop-color="#cf1c12"/>
<stop offset="0.2833" stop-color="#d21c12"/>
<stop offset="0.3000" stop-color="#d51c11"/>
<stop offset="0.3167" stop-color="#d91c11"/>
<stop offset="0.3333" stop-color="#dc1c11"/>
<stop offset="0.3500" stop-color="#df1c10"/>
<stop offset="0.3667" stop-color="#e31c10"/>
<stop offset="0.3833" stop-color="#e71c0f"/>
<stop offset="0.4000" stop-color="#ec1b0e"/>
<stop offset="0.4167" stop-color="#f11b0c"/>
<stop offset="0.4333" stop-color="#f71a0b"/>
<stop offset="0.4500" stop-color="#f91d0c"/>
<stop offset="0.4667" stop-color="#f72513"/>
<stop offset="0.4833" stop-color="#f52e1b"/>
<stop offset="0.5000" stop-color="#f33a26"/>
<stop offset="0.5167" stop-color="#f14a35"/>
<stop offset="0.5333" stop-color="#ee5a43"/>
<stop offset="0.5500" stop-color="#ec6952"/>
<stop offset="0.5667" stop-color="#ec7963"/>
<stop offset="0.5833" stop-color="#ec8973"/>
<stop offset="0.6000" stop-color="#ec9884"/>
<stop offset="0.6167" stop-color="#eda794"/>
<stop offset="0.6333" stop-color="#efb6a4"/>
<stop offset="0.6500" stop-color="#f0c4b4"/>
<stop offset="0.6667" stop-color="#f2d2c4"/>
<stop offset="0.6833" stop-color="#f4e0d6"/>
<stop offset="0.7000" stop-color="#f7ede8"/>
<stop offset="0.7167" stop-color="#fcf9f7"/>
<stop offset="0.7333" stop-color="#fbf8ff"/>
<stop offset="0.7500" stop-color="#f3eaff"/>
<stop offset="0.7667" stop-color="#eadbff"/>
<stop offset="0.7833" stop-color="#e2cdff"/>
<stop offset="0.8000" stop-color="#d9bfff"/>
<stop offset="0.8167" stop-color="#cfb1ff"/>
<stop offset="0.8333" stop-color="#c5a3ff"/>
<stop offset="0.8500" stop-color="#bb96ff"/>
<stop offset="0.8667" stop-color="#b088ff"/>
<stop offset="0.8833" stop-color="#a57aff"/>
<stop offset="0.9000" stop-color="#986cff"/>
<stop offset="0.9167" stop-color="#8b5eff"/>
<stop offset="0.9333" stop-color="#7c50ff"/>
<stop offset="0.9500" stop-color="#6c41ff"/>
<stop offset="0.9667" stop-color="#5831ff"/>
<stop offset="0.9833" stop-color="#3e1eff"/>
<stop offset="1.0000" stop-color="#0000ff"/>
</linearGradient></defs>
<rect x="640.0" y="135.25" width="11.9" height="116.75" fill="url(#lg)"/>
<line x1="640.0" y1="137.90" x2="642.4" y2="137.90" stroke="#fff" stroke-opacity="0.6" stroke-width="0.5"/>
<line x1="649.5" y1="137.90" x2="651.9" y2="137.90" stroke="#fff" stroke-opacity="0.6" stroke-width="0.5"/>
<text x="655.8" y="140.40" font-size="7.04" fill="#424242">0.6</text>
<line x1="640.0" y1="165.00" x2="642.4" y2="165.00" stroke="#fff" stroke-opacity="0.6" stroke-width="0.5"/>
<line x1="649.5" y1="165.00" x2="651.9" y2="165.00" stroke="#fff" stroke-opacity="0.6" stroke-width="0.5"/>
<text x="655.8" y="167.50" font-size="7.04" fill="#424242">0.4</text>
<line x1="640.0" y1="192.10" x2="642.4" y2="192.10" stroke="#fff" stroke-opacity="0.6" stroke-width="0.5"/>
<line x1="649.5" y1="192.10" x2="651.9" y2="192.10" stroke="#fff" stroke-opacity="0.6" stroke-width="0.5"/>
<text x="655.8" y="194.60" font-size="7.04" fill="#424242">0.2</text>
<line x1="640.0" y1="219.20" x2="642.4" y2="219.20" stroke="#fff" stroke-opacity="0.6" stroke-width="0.5"/>
<line x1="649.5" y1="219.20" x2="651.9" y2="219.20" stroke="#fff" stroke-opacity="0.6" stroke-width="0.5"/>
<text x="655.8" y="221.70" font-size="7.04" fill="#424242">0.0</text>
<line x1="640.0" y1="246.30" x2="642.4" y2="246.30" stroke="#fff" stroke-opacity="0.6" stroke-width="0.5"/>
<line x1="649.5" y1="246.30" x2="651.9" y2="246.30" stroke="#fff" stroke-opacity="0.6" stroke-width="0.5"/>
<text x="655.8" y="248.80" font-size="7.04" fill="#424242">-0.2</text>
<text x="640.5" y="120.8" font-size="8.8" fill="#000">Regression</text>
<text x="640.5" y="129.5" font-size="8.8" fill="#000">coefficient</text>
</svg></body></html>
